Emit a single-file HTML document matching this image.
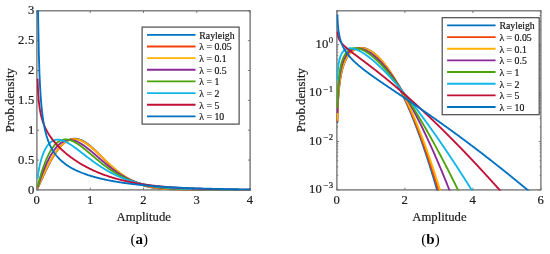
<!DOCTYPE html>
<html><head><meta charset="utf-8"><style>html,body{margin:0;padding:0;background:#fff;width:550px;height:254px;overflow:hidden}svg{display:block}</style></head>
<body>
<svg width="550" height="254" viewBox="0 0 550 254">
<defs>
<clipPath id="ca"><rect x="36.6" y="10.5" width="213.79999999999998" height="180.0"/></clipPath>
<clipPath id="cb"><rect x="336.59999999999997" y="10.5" width="204.6" height="180.0"/></clipPath>
</defs>
<rect width="550" height="254" fill="#fff"/>
<g font-family="Liberation Serif, serif" font-size="12.6" letter-spacing="0.3" fill="#1a1a1a" stroke="#1a1a1a" stroke-width="0.2">
<text x="34.6" y="193.50" text-anchor="end">0</text>
<text x="34.6" y="163.65" text-anchor="end">0.5</text>
<text x="34.6" y="133.80" text-anchor="end">1</text>
<text x="34.6" y="103.95" text-anchor="end">1.5</text>
<text x="34.6" y="74.10" text-anchor="end">2</text>
<text x="34.6" y="44.25" text-anchor="end">2.5</text>
<text x="34.6" y="14.40" text-anchor="end">3</text>
<text x="36.90" y="204.2" text-anchor="middle">0</text>
<text x="90.20" y="204.2" text-anchor="middle">1</text>
<text x="143.50" y="204.2" text-anchor="middle">2</text>
<text x="196.80" y="204.2" text-anchor="middle">3</text>
<text x="250.10" y="204.2" text-anchor="middle">4</text>
<text x="333.4" y="47.89" text-anchor="end">10<tspan dx="0" dy="-4.8" font-size="8.8">0</tspan></text>
<text x="333.4" y="96.31" text-anchor="end">10<tspan dx="1.2" dy="-4.8" font-size="8.8">−1</tspan></text>
<text x="333.4" y="144.73" text-anchor="end">10<tspan dx="1.2" dy="-4.8" font-size="8.8">−2</tspan></text>
<text x="333.4" y="193.15" text-anchor="end">10<tspan dx="1.2" dy="-4.8" font-size="8.8">−3</tspan></text>
<text x="336.90" y="204.2" text-anchor="middle">0</text>
<text x="404.90" y="204.2" text-anchor="middle">2</text>
<text x="472.90" y="204.2" text-anchor="middle">4</text>
<text x="540.90" y="204.2" text-anchor="middle">6</text>
</g>
<path d="M36.90 189.90v-2.20M36.90 10.80v2.20M90.20 189.90v-2.20M90.20 10.80v2.20M143.50 189.90v-2.20M143.50 10.80v2.20M196.80 189.90v-2.20M196.80 10.80v2.20M250.10 189.90v-2.20M250.10 10.80v2.20M36.90 189.90h2.20M250.10 189.90h-2.20M36.90 160.05h2.20M250.10 160.05h-2.20M36.90 130.20h2.20M250.10 130.20h-2.20M36.90 100.35h2.20M250.10 100.35h-2.20M36.90 70.50h2.20M250.10 70.50h-2.20M36.90 40.65h2.20M250.10 40.65h-2.20M36.90 10.80h2.20M250.10 10.80h-2.20" stroke="#6e6e6e" stroke-width="0.9" fill="none"/>
<path d="M336.90 189.90v-2.20M336.90 10.80v2.20M404.90 189.90v-2.20M404.90 10.80v2.20M472.90 189.90v-2.20M472.90 10.80v2.20M540.90 189.90v-2.20M540.90 10.80v2.20M336.90 189.90h2.20M540.90 189.90h-2.20M336.90 141.48h2.20M540.90 141.48h-2.20M336.90 93.06h2.20M540.90 93.06h-2.20M336.90 44.64h2.20M540.90 44.64h-2.20M336.90 175.32h1.32M540.90 175.32h-1.32M336.90 166.80h1.32M540.90 166.80h-1.32M336.90 160.75h1.32M540.90 160.75h-1.32M336.90 156.06h1.32M540.90 156.06h-1.32M336.90 152.22h1.32M540.90 152.22h-1.32M336.90 148.98h1.32M540.90 148.98h-1.32M336.90 146.17h1.32M540.90 146.17h-1.32M336.90 143.70h1.32M540.90 143.70h-1.32M336.90 126.91h1.32M540.90 126.91h-1.32M336.90 118.38h1.32M540.90 118.38h-1.32M336.90 112.33h1.32M540.90 112.33h-1.32M336.90 107.64h1.32M540.90 107.64h-1.32M336.90 103.80h1.32M540.90 103.80h-1.32M336.90 100.56h1.32M540.90 100.56h-1.32M336.90 97.75h1.32M540.90 97.75h-1.32M336.90 95.28h1.32M540.90 95.28h-1.32M336.90 78.49h1.32M540.90 78.49h-1.32M336.90 69.96h1.32M540.90 69.96h-1.32M336.90 63.91h1.32M540.90 63.91h-1.32M336.90 59.22h1.32M540.90 59.22h-1.32M336.90 55.39h1.32M540.90 55.39h-1.32M336.90 52.14h1.32M540.90 52.14h-1.32M336.90 49.34h1.32M540.90 49.34h-1.32M336.90 46.86h1.32M540.90 46.86h-1.32M336.90 30.07h1.32M540.90 30.07h-1.32M336.90 21.54h1.32M540.90 21.54h-1.32M336.90 15.49h1.32M540.90 15.49h-1.32M336.90 10.80h1.32M540.90 10.80h-1.32" stroke="#6e6e6e" stroke-width="0.9" fill="none"/>
<rect x="36.90" y="10.80" width="213.20" height="179.10" fill="none" stroke="#6e6e6e" stroke-width="1.3"/>
<rect x="336.90" y="10.80" width="204.00" height="179.10" fill="none" stroke="#6e6e6e" stroke-width="1.3"/>
<polyline clip-path="url(#ca)" points="37.54,188.47 38.18,187.04 38.82,185.61 39.46,184.18 40.10,182.76 40.74,181.35 41.38,179.94 42.02,178.54 42.66,177.15 43.30,175.78 43.94,174.41 44.58,173.06 45.21,171.72 45.85,170.40 46.49,169.09 47.13,167.80 47.77,166.54 48.41,165.29 49.05,164.06 49.69,162.85 50.33,161.66 50.97,160.50 51.61,159.36 52.25,158.25 52.89,157.16 53.53,156.10 54.17,155.07 54.81,154.06 55.45,153.09 56.09,152.14 56.73,151.22 57.37,150.34 58.01,149.48 58.65,148.66 59.29,147.86 59.93,147.10 60.57,146.37 61.20,145.68 61.84,145.01 62.48,144.38 63.12,143.78 63.76,143.22 64.40,142.69 65.04,142.20 65.68,141.73 66.32,141.30 66.96,140.91 67.60,140.54 68.24,140.21 68.88,139.92 69.52,139.65 70.16,139.42 70.80,139.23 71.44,139.06 72.08,138.92 72.72,138.82 73.36,138.75 74.00,138.70 74.64,138.69 75.28,138.71 75.92,138.75 76.56,138.83 77.19,138.93 77.83,139.06 78.47,139.22 79.11,139.40 79.75,139.60 80.39,139.84 81.03,140.09 81.67,140.37 82.31,140.67 82.95,141.00 83.59,141.34 84.23,141.71 84.87,142.10 85.51,142.50 86.15,142.92 86.79,143.36 87.43,143.82 88.07,144.29 88.71,144.78 89.35,145.28 89.99,145.80 90.63,146.33 91.27,146.87 91.91,147.42 92.55,147.99 93.18,148.56 93.82,149.14 94.46,149.73 95.10,150.33 95.74,150.94 96.38,151.55 97.02,152.17 97.66,152.79 98.30,153.42 98.94,154.05 99.58,154.68 100.22,155.32 100.86,155.95 101.50,156.59 102.14,157.23 102.78,157.87 103.42,158.51 104.06,159.15 104.70,159.78 105.34,160.42 105.98,161.05 106.62,161.68 107.26,162.30 107.90,162.92 108.54,163.54 109.17,164.15 109.81,164.76 110.45,165.36 111.09,165.96 111.73,166.55 112.37,167.13 113.01,167.71 113.65,168.28 114.29,168.85 114.93,169.40 115.57,169.95 116.21,170.49 116.85,171.02 117.49,171.55 118.13,172.06 118.77,172.57 119.41,173.07 120.05,173.56 120.69,174.04 121.33,174.52 121.97,174.98 122.61,175.43 123.25,175.88 123.89,176.32 124.53,176.74 125.16,177.16 125.80,177.57 126.44,177.97 127.08,178.36 127.72,178.75 128.36,179.12 129.00,179.48 129.64,179.84 130.28,180.18 130.92,180.52 131.56,180.85 132.20,181.17 132.84,181.48 133.48,181.79 134.12,182.08 134.76,182.37 135.40,182.65 136.04,182.92 136.68,183.18 137.32,183.43 137.96,183.68 138.60,183.92 139.24,184.15 139.88,184.38 140.52,184.60 141.15,184.81 141.79,185.01 142.43,185.21 143.07,185.40 143.71,185.59 144.35,185.77 144.99,185.94 145.63,186.10 146.27,186.27 146.91,186.42 147.55,186.57 148.19,186.71 148.83,186.85 149.47,186.99 150.11,187.11 150.75,187.24 151.39,187.36 152.03,187.47 152.67,187.58 153.31,187.69 153.95,187.79 154.59,187.89 155.23,187.98 155.87,188.07 156.51,188.16 157.14,188.24 157.78,188.32 158.42,188.40 159.06,188.47 159.70,188.54 160.34,188.61 160.98,188.67 161.62,188.73 162.26,188.79 162.90,188.84 163.54,188.90 164.18,188.95 164.82,189.00 165.46,189.04 166.10,189.09 166.74,189.13 167.38,189.17 168.02,189.21 168.66,189.25 169.30,189.28 169.94,189.31 170.58,189.34 171.22,189.37 171.86,189.40 172.50,189.43 173.13,189.46 173.77,189.48 174.41,189.50 175.05,189.53 175.69,189.55 176.33,189.57 176.97,189.59 177.61,189.60 178.25,189.62 178.89,189.64 179.53,189.65 180.17,189.67 180.81,189.68 181.45,189.69 182.09,189.71 182.73,189.72 183.37,189.73 184.01,189.74 184.65,189.75 185.29,189.76 185.93,189.77 186.57,189.77 187.21,189.78 187.85,189.79 188.49,189.80 189.12,189.80 189.76,189.81 190.40,189.81 191.04,189.82 191.68,189.82 192.32,189.83 192.96,189.83 193.60,189.84 194.24,189.84 194.88,189.85 195.52,189.85 196.16,189.85 196.80,189.86 197.44,189.86 198.08,189.86 198.72,189.86 199.36,189.87 200.00,189.87 200.64,189.87 201.28,189.87 201.92,189.87 202.56,189.88 203.20,189.88 203.84,189.88 204.48,189.88 205.11,189.88 205.75,189.88 206.39,189.88 207.03,189.89 207.67,189.89 208.31,189.89 208.95,189.89 209.59,189.89 210.23,189.89 210.87,189.89 211.51,189.89 212.15,189.89 212.79,189.89 213.43,189.89 214.07,189.89 214.71,189.89 215.35,189.89 215.99,189.89 216.63,189.90 217.27,189.90 217.91,189.90 218.55,189.90 219.19,189.90 219.83,189.90 220.47,189.90 221.10,189.90 221.74,189.90 222.38,189.90 223.02,189.90 223.66,189.90 224.30,189.90 224.94,189.90 225.58,189.90 226.22,189.90 226.86,189.90 227.50,189.90 228.14,189.90 228.78,189.90 229.42,189.90 230.06,189.90 230.70,189.90 231.34,189.90 231.98,189.90 232.62,189.90 233.26,189.90 233.90,189.90 234.54,189.90 235.18,189.90 235.82,189.90 236.46,189.90 237.09,189.90 237.73,189.90 238.37,189.90 239.01,189.90 239.65,189.90 240.29,189.90 240.93,189.90 241.57,189.90 242.21,189.90 242.85,189.90 243.49,189.90 244.13,189.90 244.77,189.90 245.41,189.90 246.05,189.90 246.69,189.90 247.33,189.90 247.97,189.90 248.61,189.90 249.25,189.90 249.89,189.90 250.53,189.90 251.17,189.90 251.81,189.90 252.45,189.90" fill="none" stroke="#0070c0" stroke-width="1.85" stroke-linejoin="round"/>
<polyline clip-path="url(#ca)" points="37.54,188.41 38.18,186.94 38.82,185.48 39.46,184.03 40.10,182.59 40.74,181.16 41.38,179.73 42.02,178.32 42.66,176.92 43.30,175.53 43.94,174.16 44.58,172.80 45.21,171.46 45.85,170.14 46.49,168.83 47.13,167.54 47.77,166.27 48.41,165.03 49.05,163.80 49.69,162.60 50.33,161.42 50.97,160.27 51.61,159.14 52.25,158.04 52.89,156.96 53.53,155.91 54.17,154.89 54.81,153.90 55.45,152.94 56.09,152.01 56.73,151.11 57.37,150.24 58.01,149.40 58.65,148.59 59.29,147.81 59.93,147.07 60.57,146.36 61.20,145.68 61.84,145.03 62.48,144.42 63.12,143.84 63.76,143.30 64.40,142.78 65.04,142.31 65.68,141.86 66.32,141.45 66.96,141.07 67.60,140.72 68.24,140.41 68.88,140.13 69.52,139.88 70.16,139.66 70.80,139.48 71.44,139.33 72.08,139.21 72.72,139.11 73.36,139.05 74.00,139.02 74.64,139.02 75.28,139.05 75.92,139.10 76.56,139.18 77.19,139.29 77.83,139.43 78.47,139.59 79.11,139.78 79.75,139.99 80.39,140.23 81.03,140.49 81.67,140.77 82.31,141.07 82.95,141.40 83.59,141.74 84.23,142.11 84.87,142.49 85.51,142.90 86.15,143.32 86.79,143.75 87.43,144.21 88.07,144.67 88.71,145.16 89.35,145.65 89.99,146.16 90.63,146.69 91.27,147.22 91.91,147.77 92.55,148.32 93.18,148.88 93.82,149.46 94.46,150.04 95.10,150.63 95.74,151.22 96.38,151.82 97.02,152.43 97.66,153.04 98.30,153.66 98.94,154.28 99.58,154.90 100.22,155.52 100.86,156.15 101.50,156.77 102.14,157.40 102.78,158.03 103.42,158.65 104.06,159.28 104.70,159.90 105.34,160.52 105.98,161.14 106.62,161.76 107.26,162.37 107.90,162.98 108.54,163.59 109.17,164.19 109.81,164.78 110.45,165.38 111.09,165.96 111.73,166.54 112.37,167.11 113.01,167.68 113.65,168.24 114.29,168.79 114.93,169.34 115.57,169.88 116.21,170.41 116.85,170.93 117.49,171.45 118.13,171.96 118.77,172.46 119.41,172.95 120.05,173.43 120.69,173.91 121.33,174.38 121.97,174.83 122.61,175.28 123.25,175.72 123.89,176.15 124.53,176.58 125.16,176.99 125.80,177.40 126.44,177.79 127.08,178.18 127.72,178.56 128.36,178.93 129.00,179.29 129.64,179.64 130.28,179.99 130.92,180.32 131.56,180.65 132.20,180.97 132.84,181.28 133.48,181.58 134.12,181.88 134.76,182.17 135.40,182.44 136.04,182.72 136.68,182.98 137.32,183.23 137.96,183.48 138.60,183.72 139.24,183.96 139.88,184.18 140.52,184.40 141.15,184.62 141.79,184.82 142.43,185.02 143.07,185.22 143.71,185.40 144.35,185.58 144.99,185.76 145.63,185.93 146.27,186.09 146.91,186.25 147.55,186.40 148.19,186.55 148.83,186.69 149.47,186.83 150.11,186.96 150.75,187.08 151.39,187.21 152.03,187.33 152.67,187.44 153.31,187.55 153.95,187.65 154.59,187.75 155.23,187.85 155.87,187.94 156.51,188.03 157.14,188.12 157.78,188.20 158.42,188.28 159.06,188.36 159.70,188.43 160.34,188.50 160.98,188.57 161.62,188.63 162.26,188.69 162.90,188.75 163.54,188.81 164.18,188.86 164.82,188.91 165.46,188.96 166.10,189.01 166.74,189.05 167.38,189.10 168.02,189.14 168.66,189.18 169.30,189.21 169.94,189.25 170.58,189.28 171.22,189.31 171.86,189.35 172.50,189.37 173.13,189.40 173.77,189.43 174.41,189.45 175.05,189.48 175.69,189.50 176.33,189.52 176.97,189.54 177.61,189.56 178.25,189.58 178.89,189.60 179.53,189.62 180.17,189.63 180.81,189.65 181.45,189.66 182.09,189.68 182.73,189.69 183.37,189.70 184.01,189.71 184.65,189.72 185.29,189.73 185.93,189.74 186.57,189.75 187.21,189.76 187.85,189.77 188.49,189.78 189.12,189.78 189.76,189.79 190.40,189.80 191.04,189.80 191.68,189.81 192.32,189.82 192.96,189.82 193.60,189.83 194.24,189.83 194.88,189.83 195.52,189.84 196.16,189.84 196.80,189.85 197.44,189.85 198.08,189.85 198.72,189.86 199.36,189.86 200.00,189.86 200.64,189.86 201.28,189.87 201.92,189.87 202.56,189.87 203.20,189.87 203.84,189.87 204.48,189.88 205.11,189.88 205.75,189.88 206.39,189.88 207.03,189.88 207.67,189.88 208.31,189.88 208.95,189.89 209.59,189.89 210.23,189.89 210.87,189.89 211.51,189.89 212.15,189.89 212.79,189.89 213.43,189.89 214.07,189.89 214.71,189.89 215.35,189.89 215.99,189.89 216.63,189.89 217.27,189.89 217.91,189.89 218.55,189.90 219.19,189.90 219.83,189.90 220.47,189.90 221.10,189.90 221.74,189.90 222.38,189.90 223.02,189.90 223.66,189.90 224.30,189.90 224.94,189.90 225.58,189.90 226.22,189.90 226.86,189.90 227.50,189.90 228.14,189.90 228.78,189.90 229.42,189.90 230.06,189.90 230.70,189.90 231.34,189.90 231.98,189.90 232.62,189.90 233.26,189.90 233.90,189.90 234.54,189.90 235.18,189.90 235.82,189.90 236.46,189.90 237.09,189.90 237.73,189.90 238.37,189.90 239.01,189.90 239.65,189.90 240.29,189.90 240.93,189.90 241.57,189.90 242.21,189.90 242.85,189.90 243.49,189.90 244.13,189.90 244.77,189.90 245.41,189.90 246.05,189.90 246.69,189.90 247.33,189.90 247.97,189.90 248.61,189.90 249.25,189.90 249.89,189.90 250.53,189.90 251.17,189.90 251.81,189.90 252.45,189.90" fill="none" stroke="#f64008" stroke-width="1.85" stroke-linejoin="round"/>
<polyline clip-path="url(#ca)" points="37.54,188.27 38.18,186.72 38.82,185.20 39.46,183.70 40.10,182.21 40.74,180.75 41.38,179.30 42.02,177.86 42.66,176.44 43.30,175.04 43.94,173.66 44.58,172.30 45.21,170.95 45.85,169.62 46.49,168.32 47.13,167.04 47.77,165.78 48.41,164.54 49.05,163.32 49.69,162.13 50.33,160.97 50.97,159.83 51.61,158.72 52.25,157.63 52.89,156.58 53.53,155.55 54.17,154.55 54.81,153.58 55.45,152.64 56.09,151.73 56.73,150.85 57.37,150.00 58.01,149.18 58.65,148.40 59.29,147.64 59.93,146.92 60.57,146.23 61.20,145.58 61.84,144.95 62.48,144.36 63.12,143.80 63.76,143.28 64.40,142.79 65.04,142.33 65.68,141.90 66.32,141.50 66.96,141.14 67.60,140.81 68.24,140.52 68.88,140.25 69.52,140.02 70.16,139.81 70.80,139.64 71.44,139.50 72.08,139.39 72.72,139.30 73.36,139.25 74.00,139.23 74.64,139.23 75.28,139.26 75.92,139.32 76.56,139.41 77.19,139.52 77.83,139.66 78.47,139.82 79.11,140.01 79.75,140.22 80.39,140.45 81.03,140.71 81.67,140.99 82.31,141.29 82.95,141.61 83.59,141.94 84.23,142.30 84.87,142.68 85.51,143.07 86.15,143.48 86.79,143.91 87.43,144.35 88.07,144.81 88.71,145.28 89.35,145.77 89.99,146.26 90.63,146.77 91.27,147.29 91.91,147.82 92.55,148.37 93.18,148.92 93.82,149.47 94.46,150.04 95.10,150.61 95.74,151.19 96.38,151.78 97.02,152.37 97.66,152.97 98.30,153.57 98.94,154.17 99.58,154.78 100.22,155.38 100.86,155.99 101.50,156.61 102.14,157.22 102.78,157.83 103.42,158.44 104.06,159.05 104.70,159.66 105.34,160.27 105.98,160.88 106.62,161.48 107.26,162.08 107.90,162.68 108.54,163.27 109.17,163.86 109.81,164.45 110.45,165.03 111.09,165.60 111.73,166.17 112.37,166.73 113.01,167.29 113.65,167.84 114.29,168.39 114.93,168.93 115.57,169.46 116.21,169.99 116.85,170.50 117.49,171.01 118.13,171.52 118.77,172.01 119.41,172.50 120.05,172.98 120.69,173.45 121.33,173.91 121.97,174.37 122.61,174.82 123.25,175.26 123.89,175.69 124.53,176.11 125.16,176.52 125.80,176.93 126.44,177.32 127.08,177.71 127.72,178.09 128.36,178.47 129.00,178.83 129.64,179.18 130.28,179.53 130.92,179.87 131.56,180.20 132.20,180.52 132.84,180.84 133.48,181.14 134.12,181.44 134.76,181.73 135.40,182.02 136.04,182.29 136.68,182.56 137.32,182.82 137.96,183.08 138.60,183.32 139.24,183.56 139.88,183.80 140.52,184.02 141.15,184.24 141.79,184.45 142.43,184.66 143.07,184.86 143.71,185.05 144.35,185.24 144.99,185.42 145.63,185.60 146.27,185.77 146.91,185.93 147.55,186.09 148.19,186.25 148.83,186.39 149.47,186.54 150.11,186.68 150.75,186.81 151.39,186.94 152.03,187.06 152.67,187.18 153.31,187.30 153.95,187.41 154.59,187.52 155.23,187.62 155.87,187.72 156.51,187.82 157.14,187.91 157.78,188.00 158.42,188.08 159.06,188.16 159.70,188.24 160.34,188.32 160.98,188.39 161.62,188.46 162.26,188.53 162.90,188.59 163.54,188.65 164.18,188.71 164.82,188.77 165.46,188.82 166.10,188.87 166.74,188.92 167.38,188.97 168.02,189.02 168.66,189.06 169.30,189.10 169.94,189.14 170.58,189.18 171.22,189.21 171.86,189.25 172.50,189.28 173.13,189.31 173.77,189.34 174.41,189.37 175.05,189.40 175.69,189.42 176.33,189.45 176.97,189.47 177.61,189.50 178.25,189.52 178.89,189.54 179.53,189.56 180.17,189.58 180.81,189.59 181.45,189.61 182.09,189.63 182.73,189.64 183.37,189.65 184.01,189.67 184.65,189.68 185.29,189.69 185.93,189.70 186.57,189.72 187.21,189.73 187.85,189.74 188.49,189.75 189.12,189.75 189.76,189.76 190.40,189.77 191.04,189.78 191.68,189.79 192.32,189.79 192.96,189.80 193.60,189.80 194.24,189.81 194.88,189.82 195.52,189.82 196.16,189.83 196.80,189.83 197.44,189.83 198.08,189.84 198.72,189.84 199.36,189.85 200.00,189.85 200.64,189.85 201.28,189.85 201.92,189.86 202.56,189.86 203.20,189.86 203.84,189.87 204.48,189.87 205.11,189.87 205.75,189.87 206.39,189.87 207.03,189.87 207.67,189.88 208.31,189.88 208.95,189.88 209.59,189.88 210.23,189.88 210.87,189.88 211.51,189.88 212.15,189.89 212.79,189.89 213.43,189.89 214.07,189.89 214.71,189.89 215.35,189.89 215.99,189.89 216.63,189.89 217.27,189.89 217.91,189.89 218.55,189.89 219.19,189.89 219.83,189.89 220.47,189.89 221.10,189.89 221.74,189.89 222.38,189.90 223.02,189.90 223.66,189.90 224.30,189.90 224.94,189.90 225.58,189.90 226.22,189.90 226.86,189.90 227.50,189.90 228.14,189.90 228.78,189.90 229.42,189.90 230.06,189.90 230.70,189.90 231.34,189.90 231.98,189.90 232.62,189.90 233.26,189.90 233.90,189.90 234.54,189.90 235.18,189.90 235.82,189.90 236.46,189.90 237.09,189.90 237.73,189.90 238.37,189.90 239.01,189.90 239.65,189.90 240.29,189.90 240.93,189.90 241.57,189.90 242.21,189.90 242.85,189.90 243.49,189.90 244.13,189.90 244.77,189.90 245.41,189.90 246.05,189.90 246.69,189.90 247.33,189.90 247.97,189.90 248.61,189.90 249.25,189.90 249.89,189.90 250.53,189.90 251.17,189.90 251.81,189.90 252.45,189.90" fill="none" stroke="#ffb000" stroke-width="1.85" stroke-linejoin="round"/>
<polyline clip-path="url(#ca)" points="37.54,187.58 38.18,185.51 38.82,183.54 39.46,181.64 40.10,179.79 40.74,177.99 41.38,176.23 42.02,174.52 42.66,172.85 43.30,171.23 43.94,169.65 44.58,168.11 45.21,166.61 45.85,165.15 46.49,163.73 47.13,162.36 47.77,161.03 48.41,159.74 49.05,158.49 49.69,157.29 50.33,156.13 50.97,155.01 51.61,153.93 52.25,152.90 52.89,151.91 53.53,150.96 54.17,150.05 54.81,149.18 55.45,148.36 56.09,147.58 56.73,146.84 57.37,146.14 58.01,145.48 58.65,144.86 59.29,144.28 59.93,143.74 60.57,143.24 61.20,142.77 61.84,142.35 62.48,141.96 63.12,141.60 63.76,141.29 64.40,141.01 65.04,140.76 65.68,140.55 66.32,140.37 66.96,140.22 67.60,140.11 68.24,140.02 68.88,139.97 69.52,139.94 70.16,139.95 70.80,139.98 71.44,140.04 72.08,140.13 72.72,140.24 73.36,140.38 74.00,140.54 74.64,140.73 75.28,140.94 75.92,141.17 76.56,141.42 77.19,141.69 77.83,141.98 78.47,142.29 79.11,142.62 79.75,142.97 80.39,143.33 81.03,143.71 81.67,144.10 82.31,144.51 82.95,144.93 83.59,145.36 84.23,145.81 84.87,146.27 85.51,146.73 86.15,147.21 86.79,147.70 87.43,148.20 88.07,148.70 88.71,149.21 89.35,149.73 89.99,150.26 90.63,150.79 91.27,151.32 91.91,151.86 92.55,152.41 93.18,152.96 93.82,153.51 94.46,154.06 95.10,154.62 95.74,155.17 96.38,155.73 97.02,156.29 97.66,156.85 98.30,157.41 98.94,157.97 99.58,158.53 100.22,159.08 100.86,159.64 101.50,160.19 102.14,160.74 102.78,161.29 103.42,161.83 104.06,162.38 104.70,162.91 105.34,163.45 105.98,163.98 106.62,164.50 107.26,165.02 107.90,165.54 108.54,166.05 109.17,166.56 109.81,167.06 110.45,167.56 111.09,168.05 111.73,168.53 112.37,169.01 113.01,169.48 113.65,169.95 114.29,170.41 114.93,170.86 115.57,171.31 116.21,171.75 116.85,172.19 117.49,172.62 118.13,173.04 118.77,173.45 119.41,173.86 120.05,174.26 120.69,174.66 121.33,175.05 121.97,175.43 122.61,175.80 123.25,176.17 123.89,176.53 124.53,176.88 125.16,177.23 125.80,177.57 126.44,177.90 127.08,178.23 127.72,178.55 128.36,178.86 129.00,179.17 129.64,179.47 130.28,179.77 130.92,180.05 131.56,180.34 132.20,180.61 132.84,180.88 133.48,181.14 134.12,181.40 134.76,181.65 135.40,181.90 136.04,182.14 136.68,182.37 137.32,182.60 137.96,182.82 138.60,183.04 139.24,183.25 139.88,183.46 140.52,183.66 141.15,183.85 141.79,184.04 142.43,184.23 143.07,184.41 143.71,184.59 144.35,184.76 144.99,184.92 145.63,185.09 146.27,185.24 146.91,185.40 147.55,185.55 148.19,185.69 148.83,185.83 149.47,185.97 150.11,186.10 150.75,186.23 151.39,186.35 152.03,186.48 152.67,186.59 153.31,186.71 153.95,186.82 154.59,186.93 155.23,187.03 155.87,187.13 156.51,187.23 157.14,187.32 157.78,187.42 158.42,187.51 159.06,187.59 159.70,187.68 160.34,187.76 160.98,187.83 161.62,187.91 162.26,187.98 162.90,188.05 163.54,188.12 164.18,188.19 164.82,188.25 165.46,188.32 166.10,188.38 166.74,188.43 167.38,188.49 168.02,188.54 168.66,188.59 169.30,188.65 169.94,188.69 170.58,188.74 171.22,188.79 171.86,188.83 172.50,188.87 173.13,188.91 173.77,188.95 174.41,188.99 175.05,189.02 175.69,189.06 176.33,189.09 176.97,189.13 177.61,189.16 178.25,189.19 178.89,189.22 179.53,189.24 180.17,189.27 180.81,189.30 181.45,189.32 182.09,189.35 182.73,189.37 183.37,189.39 184.01,189.41 184.65,189.43 185.29,189.45 185.93,189.47 186.57,189.49 187.21,189.51 187.85,189.52 188.49,189.54 189.12,189.56 189.76,189.57 190.40,189.58 191.04,189.60 191.68,189.61 192.32,189.62 192.96,189.64 193.60,189.65 194.24,189.66 194.88,189.67 195.52,189.68 196.16,189.69 196.80,189.70 197.44,189.71 198.08,189.72 198.72,189.72 199.36,189.73 200.00,189.74 200.64,189.75 201.28,189.75 201.92,189.76 202.56,189.77 203.20,189.77 203.84,189.78 204.48,189.79 205.11,189.79 205.75,189.80 206.39,189.80 207.03,189.81 207.67,189.81 208.31,189.81 208.95,189.82 209.59,189.82 210.23,189.83 210.87,189.83 211.51,189.83 212.15,189.84 212.79,189.84 213.43,189.84 214.07,189.84 214.71,189.85 215.35,189.85 215.99,189.85 216.63,189.85 217.27,189.86 217.91,189.86 218.55,189.86 219.19,189.86 219.83,189.86 220.47,189.87 221.10,189.87 221.74,189.87 222.38,189.87 223.02,189.87 223.66,189.87 224.30,189.88 224.94,189.88 225.58,189.88 226.22,189.88 226.86,189.88 227.50,189.88 228.14,189.88 228.78,189.88 229.42,189.88 230.06,189.88 230.70,189.89 231.34,189.89 231.98,189.89 232.62,189.89 233.26,189.89 233.90,189.89 234.54,189.89 235.18,189.89 235.82,189.89 236.46,189.89 237.09,189.89 237.73,189.89 238.37,189.89 239.01,189.89 239.65,189.89 240.29,189.89 240.93,189.89 241.57,189.89 242.21,189.89 242.85,189.89 243.49,189.90 244.13,189.90 244.77,189.90 245.41,189.90 246.05,189.90 246.69,189.90 247.33,189.90 247.97,189.90 248.61,189.90 249.25,189.90 249.89,189.90 250.53,189.90 251.17,189.90 251.81,189.90 252.45,189.90" fill="none" stroke="#8a2a96" stroke-width="1.85" stroke-linejoin="round"/>
<polyline clip-path="url(#ca)" points="37.54,186.96 38.18,184.37 38.82,181.92 39.46,179.58 40.10,177.33 40.74,175.16 41.38,173.08 42.02,171.07 42.66,169.13 43.30,167.27 43.94,165.48 44.58,163.76 45.21,162.11 45.85,160.53 46.49,159.01 47.13,157.56 47.77,156.18 48.41,154.86 49.05,153.60 49.69,152.41 50.33,151.27 50.97,150.20 51.61,149.18 52.25,148.22 52.89,147.32 53.53,146.48 54.17,145.69 54.81,144.95 55.45,144.26 56.09,143.63 56.73,143.05 57.37,142.51 58.01,142.02 58.65,141.58 59.29,141.18 59.93,140.83 60.57,140.52 61.20,140.25 61.84,140.02 62.48,139.83 63.12,139.68 63.76,139.57 64.40,139.49 65.04,139.44 65.68,139.43 66.32,139.45 66.96,139.50 67.60,139.58 68.24,139.68 68.88,139.82 69.52,139.98 70.16,140.17 70.80,140.38 71.44,140.62 72.08,140.87 72.72,141.15 73.36,141.45 74.00,141.77 74.64,142.10 75.28,142.46 75.92,142.83 76.56,143.21 77.19,143.61 77.83,144.02 78.47,144.45 79.11,144.89 79.75,145.34 80.39,145.80 81.03,146.27 81.67,146.75 82.31,147.24 82.95,147.74 83.59,148.24 84.23,148.75 84.87,149.27 85.51,149.79 86.15,150.32 86.79,150.85 87.43,151.38 88.07,151.92 88.71,152.46 89.35,153.00 89.99,153.54 90.63,154.09 91.27,154.63 91.91,155.18 92.55,155.73 93.18,156.27 93.82,156.81 94.46,157.36 95.10,157.90 95.74,158.44 96.38,158.98 97.02,159.51 97.66,160.04 98.30,160.57 98.94,161.10 99.58,161.62 100.22,162.14 100.86,162.65 101.50,163.16 102.14,163.67 102.78,164.17 103.42,164.67 104.06,165.16 104.70,165.65 105.34,166.13 105.98,166.61 106.62,167.08 107.26,167.54 107.90,168.00 108.54,168.46 109.17,168.91 109.81,169.35 110.45,169.79 111.09,170.22 111.73,170.64 112.37,171.06 113.01,171.47 113.65,171.88 114.29,172.28 114.93,172.68 115.57,173.07 116.21,173.45 116.85,173.82 117.49,174.19 118.13,174.56 118.77,174.91 119.41,175.27 120.05,175.61 120.69,175.95 121.33,176.28 121.97,176.61 122.61,176.93 123.25,177.25 123.89,177.56 124.53,177.86 125.16,178.16 125.80,178.45 126.44,178.73 127.08,179.02 127.72,179.29 128.36,179.56 129.00,179.82 129.64,180.08 130.28,180.33 130.92,180.58 131.56,180.82 132.20,181.06 132.84,181.29 133.48,181.52 134.12,181.74 134.76,181.96 135.40,182.17 136.04,182.38 136.68,182.58 137.32,182.78 137.96,182.97 138.60,183.16 139.24,183.35 139.88,183.53 140.52,183.71 141.15,183.88 141.79,184.05 142.43,184.21 143.07,184.37 143.71,184.53 144.35,184.68 144.99,184.83 145.63,184.97 146.27,185.11 146.91,185.25 147.55,185.39 148.19,185.52 148.83,185.64 149.47,185.77 150.11,185.89 150.75,186.01 151.39,186.12 152.03,186.23 152.67,186.34 153.31,186.45 153.95,186.55 154.59,186.65 155.23,186.75 155.87,186.85 156.51,186.94 157.14,187.03 157.78,187.12 158.42,187.20 159.06,187.28 159.70,187.36 160.34,187.44 160.98,187.52 161.62,187.59 162.26,187.66 162.90,187.73 163.54,187.80 164.18,187.87 164.82,187.93 165.46,187.99 166.10,188.06 166.74,188.11 167.38,188.17 168.02,188.23 168.66,188.28 169.30,188.33 169.94,188.38 170.58,188.43 171.22,188.48 171.86,188.53 172.50,188.57 173.13,188.61 173.77,188.66 174.41,188.70 175.05,188.74 175.69,188.77 176.33,188.81 176.97,188.85 177.61,188.88 178.25,188.92 178.89,188.95 179.53,188.98 180.17,189.01 180.81,189.04 181.45,189.07 182.09,189.10 182.73,189.13 183.37,189.15 184.01,189.18 184.65,189.20 185.29,189.23 185.93,189.25 186.57,189.27 187.21,189.29 187.85,189.32 188.49,189.34 189.12,189.36 189.76,189.37 190.40,189.39 191.04,189.41 191.68,189.43 192.32,189.44 192.96,189.46 193.60,189.48 194.24,189.49 194.88,189.51 195.52,189.52 196.16,189.53 196.80,189.55 197.44,189.56 198.08,189.57 198.72,189.58 199.36,189.59 200.00,189.60 200.64,189.62 201.28,189.63 201.92,189.64 202.56,189.65 203.20,189.65 203.84,189.66 204.48,189.67 205.11,189.68 205.75,189.69 206.39,189.70 207.03,189.70 207.67,189.71 208.31,189.72 208.95,189.72 209.59,189.73 210.23,189.74 210.87,189.74 211.51,189.75 212.15,189.76 212.79,189.76 213.43,189.77 214.07,189.77 214.71,189.78 215.35,189.78 215.99,189.78 216.63,189.79 217.27,189.79 217.91,189.80 218.55,189.80 219.19,189.81 219.83,189.81 220.47,189.81 221.10,189.82 221.74,189.82 222.38,189.82 223.02,189.82 223.66,189.83 224.30,189.83 224.94,189.83 225.58,189.84 226.22,189.84 226.86,189.84 227.50,189.84 228.14,189.85 228.78,189.85 229.42,189.85 230.06,189.85 230.70,189.85 231.34,189.86 231.98,189.86 232.62,189.86 233.26,189.86 233.90,189.86 234.54,189.86 235.18,189.86 235.82,189.87 236.46,189.87 237.09,189.87 237.73,189.87 238.37,189.87 239.01,189.87 239.65,189.87 240.29,189.87 240.93,189.88 241.57,189.88 242.21,189.88 242.85,189.88 243.49,189.88 244.13,189.88 244.77,189.88 245.41,189.88 246.05,189.88 246.69,189.88 247.33,189.88 247.97,189.88 248.61,189.89 249.25,189.89 249.89,189.89 250.53,189.89 251.17,189.89 251.81,189.89 252.45,189.89" fill="none" stroke="#4ca40a" stroke-width="1.85" stroke-linejoin="round"/>
<polyline clip-path="url(#ca)" points="37.54,178.99 38.18,173.89 38.82,169.95 39.46,166.65 40.10,163.80 40.74,161.27 41.38,159.02 42.02,156.99 42.66,155.14 43.30,153.47 43.94,151.94 44.58,150.55 45.21,149.28 45.85,148.11 46.49,147.05 47.13,146.09 47.77,145.21 48.41,144.42 49.05,143.70 49.69,143.06 50.33,142.48 50.97,141.96 51.61,141.51 52.25,141.12 52.89,140.77 53.53,140.48 54.17,140.24 54.81,140.04 55.45,139.89 56.09,139.78 56.73,139.70 57.37,139.67 58.01,139.67 58.65,139.70 59.29,139.76 59.93,139.85 60.57,139.98 61.20,140.13 61.84,140.30 62.48,140.50 63.12,140.72 63.76,140.96 64.40,141.22 65.04,141.51 65.68,141.81 66.32,142.12 66.96,142.46 67.60,142.80 68.24,143.17 68.88,143.54 69.52,143.93 70.16,144.33 70.80,144.74 71.44,145.16 72.08,145.58 72.72,146.02 73.36,146.47 74.00,146.92 74.64,147.38 75.28,147.84 75.92,148.31 76.56,148.79 77.19,149.26 77.83,149.75 78.47,150.23 79.11,150.72 79.75,151.21 80.39,151.71 81.03,152.20 81.67,152.70 82.31,153.19 82.95,153.69 83.59,154.19 84.23,154.68 84.87,155.18 85.51,155.68 86.15,156.17 86.79,156.66 87.43,157.15 88.07,157.64 88.71,158.13 89.35,158.62 89.99,159.10 90.63,159.58 91.27,160.06 91.91,160.53 92.55,161.00 93.18,161.47 93.82,161.93 94.46,162.39 95.10,162.85 95.74,163.30 96.38,163.75 97.02,164.19 97.66,164.63 98.30,165.07 98.94,165.50 99.58,165.93 100.22,166.35 100.86,166.77 101.50,167.18 102.14,167.59 102.78,167.99 103.42,168.39 104.06,168.78 104.70,169.17 105.34,169.56 105.98,169.94 106.62,170.31 107.26,170.68 107.90,171.04 108.54,171.40 109.17,171.76 109.81,172.11 110.45,172.45 111.09,172.79 111.73,173.13 112.37,173.46 113.01,173.78 113.65,174.10 114.29,174.42 114.93,174.73 115.57,175.03 116.21,175.33 116.85,175.63 117.49,175.92 118.13,176.21 118.77,176.49 119.41,176.77 120.05,177.04 120.69,177.31 121.33,177.57 121.97,177.83 122.61,178.08 123.25,178.33 123.89,178.58 124.53,178.82 125.16,179.06 125.80,179.29 126.44,179.52 127.08,179.75 127.72,179.97 128.36,180.18 129.00,180.39 129.64,180.60 130.28,180.81 130.92,181.01 131.56,181.21 132.20,181.40 132.84,181.59 133.48,181.78 134.12,181.96 134.76,182.14 135.40,182.31 136.04,182.48 136.68,182.65 137.32,182.82 137.96,182.98 138.60,183.14 139.24,183.29 139.88,183.45 140.52,183.60 141.15,183.74 141.79,183.89 142.43,184.03 143.07,184.16 143.71,184.30 144.35,184.43 144.99,184.56 145.63,184.69 146.27,184.81 146.91,184.93 147.55,185.05 148.19,185.17 148.83,185.28 149.47,185.39 150.11,185.50 150.75,185.60 151.39,185.71 152.03,185.81 152.67,185.91 153.31,186.01 153.95,186.10 154.59,186.19 155.23,186.29 155.87,186.37 156.51,186.46 157.14,186.55 157.78,186.63 158.42,186.71 159.06,186.79 159.70,186.87 160.34,186.94 160.98,187.02 161.62,187.09 162.26,187.16 162.90,187.23 163.54,187.30 164.18,187.36 164.82,187.43 165.46,187.49 166.10,187.55 166.74,187.61 167.38,187.67 168.02,187.73 168.66,187.78 169.30,187.84 169.94,187.89 170.58,187.94 171.22,187.99 171.86,188.04 172.50,188.09 173.13,188.14 173.77,188.18 174.41,188.23 175.05,188.27 175.69,188.31 176.33,188.36 176.97,188.40 177.61,188.44 178.25,188.48 178.89,188.51 179.53,188.55 180.17,188.59 180.81,188.62 181.45,188.65 182.09,188.69 182.73,188.72 183.37,188.75 184.01,188.78 184.65,188.81 185.29,188.84 185.93,188.87 186.57,188.90 187.21,188.93 187.85,188.95 188.49,188.98 189.12,189.00 189.76,189.03 190.40,189.05 191.04,189.07 191.68,189.10 192.32,189.12 192.96,189.14 193.60,189.16 194.24,189.18 194.88,189.20 195.52,189.22 196.16,189.24 196.80,189.26 197.44,189.27 198.08,189.29 198.72,189.31 199.36,189.33 200.00,189.34 200.64,189.36 201.28,189.37 201.92,189.39 202.56,189.40 203.20,189.42 203.84,189.43 204.48,189.44 205.11,189.46 205.75,189.47 206.39,189.48 207.03,189.49 207.67,189.50 208.31,189.51 208.95,189.53 209.59,189.54 210.23,189.55 210.87,189.56 211.51,189.57 212.15,189.58 212.79,189.59 213.43,189.59 214.07,189.60 214.71,189.61 215.35,189.62 215.99,189.63 216.63,189.64 217.27,189.64 217.91,189.65 218.55,189.66 219.19,189.67 219.83,189.67 220.47,189.68 221.10,189.69 221.74,189.69 222.38,189.70 223.02,189.70 223.66,189.71 224.30,189.71 224.94,189.72 225.58,189.73 226.22,189.73 226.86,189.74 227.50,189.74 228.14,189.75 228.78,189.75 229.42,189.75 230.06,189.76 230.70,189.76 231.34,189.77 231.98,189.77 232.62,189.77 233.26,189.78 233.90,189.78 234.54,189.79 235.18,189.79 235.82,189.79 236.46,189.80 237.09,189.80 237.73,189.80 238.37,189.80 239.01,189.81 239.65,189.81 240.29,189.81 240.93,189.82 241.57,189.82 242.21,189.82 242.85,189.82 243.49,189.83 244.13,189.83 244.77,189.83 245.41,189.83 246.05,189.83 246.69,189.84 247.33,189.84 247.97,189.84 248.61,189.84 249.25,189.84 249.89,189.85 250.53,189.85 251.17,189.85 251.81,189.85 252.45,189.85" fill="none" stroke="#10b6ea" stroke-width="1.85" stroke-linejoin="round"/>
<polyline clip-path="url(#ca)" points="37.54,78.60 38.18,93.46 38.82,101.39 39.46,106.75 40.10,110.78 40.74,114.02 41.38,116.74 42.02,119.08 42.66,121.14 43.30,122.99 43.94,124.67 44.58,126.22 45.21,127.65 45.85,128.99 46.49,130.24 47.13,131.43 47.77,132.56 48.41,133.63 49.05,134.66 49.69,135.64 50.33,136.59 50.97,137.50 51.61,138.39 52.25,139.24 52.89,140.07 53.53,140.87 54.17,141.66 54.81,142.42 55.45,143.16 56.09,143.89 56.73,144.59 57.37,145.28 58.01,145.96 58.65,146.62 59.29,147.27 59.93,147.91 60.57,148.53 61.20,149.15 61.84,149.75 62.48,150.34 63.12,150.92 63.76,151.49 64.40,152.05 65.04,152.60 65.68,153.14 66.32,153.67 66.96,154.20 67.60,154.71 68.24,155.22 68.88,155.72 69.52,156.21 70.16,156.70 70.80,157.18 71.44,157.65 72.08,158.11 72.72,158.57 73.36,159.02 74.00,159.47 74.64,159.91 75.28,160.34 75.92,160.77 76.56,161.19 77.19,161.60 77.83,162.01 78.47,162.42 79.11,162.81 79.75,163.21 80.39,163.59 81.03,163.98 81.67,164.35 82.31,164.72 82.95,165.09 83.59,165.45 84.23,165.81 84.87,166.16 85.51,166.51 86.15,166.85 86.79,167.19 87.43,167.52 88.07,167.85 88.71,168.18 89.35,168.50 89.99,168.82 90.63,169.13 91.27,169.44 91.91,169.74 92.55,170.04 93.18,170.33 93.82,170.63 94.46,170.91 95.10,171.20 95.74,171.48 96.38,171.75 97.02,172.03 97.66,172.30 98.30,172.56 98.94,172.82 99.58,173.08 100.22,173.34 100.86,173.59 101.50,173.84 102.14,174.08 102.78,174.32 103.42,174.56 104.06,174.79 104.70,175.03 105.34,175.25 105.98,175.48 106.62,175.70 107.26,175.92 107.90,176.14 108.54,176.35 109.17,176.56 109.81,176.77 110.45,176.97 111.09,177.17 111.73,177.37 112.37,177.57 113.01,177.76 113.65,177.95 114.29,178.14 114.93,178.32 115.57,178.50 116.21,178.68 116.85,178.86 117.49,179.04 118.13,179.21 118.77,179.38 119.41,179.55 120.05,179.71 120.69,179.87 121.33,180.03 121.97,180.19 122.61,180.35 123.25,180.50 123.89,180.65 124.53,180.80 125.16,180.95 125.80,181.09 126.44,181.23 127.08,181.37 127.72,181.51 128.36,181.65 129.00,181.78 129.64,181.92 130.28,182.05 130.92,182.18 131.56,182.30 132.20,182.43 132.84,182.55 133.48,182.67 134.12,182.79 134.76,182.91 135.40,183.02 136.04,183.14 136.68,183.25 137.32,183.36 137.96,183.47 138.60,183.58 139.24,183.68 139.88,183.78 140.52,183.89 141.15,183.99 141.79,184.09 142.43,184.18 143.07,184.28 143.71,184.38 144.35,184.47 144.99,184.56 145.63,184.65 146.27,184.74 146.91,184.83 147.55,184.91 148.19,185.00 148.83,185.08 149.47,185.17 150.11,185.25 150.75,185.33 151.39,185.40 152.03,185.48 152.67,185.56 153.31,185.63 153.95,185.71 154.59,185.78 155.23,185.85 155.87,185.92 156.51,185.99 157.14,186.06 157.78,186.12 158.42,186.19 159.06,186.25 159.70,186.32 160.34,186.38 160.98,186.44 161.62,186.50 162.26,186.56 162.90,186.62 163.54,186.68 164.18,186.74 164.82,186.79 165.46,186.85 166.10,186.90 166.74,186.95 167.38,187.01 168.02,187.06 168.66,187.11 169.30,187.16 169.94,187.21 170.58,187.25 171.22,187.30 171.86,187.35 172.50,187.39 173.13,187.44 173.77,187.48 174.41,187.53 175.05,187.57 175.69,187.61 176.33,187.65 176.97,187.69 177.61,187.73 178.25,187.77 178.89,187.81 179.53,187.85 180.17,187.89 180.81,187.92 181.45,187.96 182.09,187.99 182.73,188.03 183.37,188.06 184.01,188.10 184.65,188.13 185.29,188.16 185.93,188.19 186.57,188.23 187.21,188.26 187.85,188.29 188.49,188.32 189.12,188.35 189.76,188.37 190.40,188.40 191.04,188.43 191.68,188.46 192.32,188.49 192.96,188.51 193.60,188.54 194.24,188.56 194.88,188.59 195.52,188.61 196.16,188.64 196.80,188.66 197.44,188.68 198.08,188.71 198.72,188.73 199.36,188.75 200.00,188.77 200.64,188.79 201.28,188.81 201.92,188.84 202.56,188.86 203.20,188.88 203.84,188.89 204.48,188.91 205.11,188.93 205.75,188.95 206.39,188.97 207.03,188.99 207.67,189.00 208.31,189.02 208.95,189.04 209.59,189.05 210.23,189.07 210.87,189.09 211.51,189.10 212.15,189.12 212.79,189.13 213.43,189.15 214.07,189.16 214.71,189.18 215.35,189.19 215.99,189.20 216.63,189.22 217.27,189.23 217.91,189.24 218.55,189.26 219.19,189.27 219.83,189.28 220.47,189.29 221.10,189.31 221.74,189.32 222.38,189.33 223.02,189.34 223.66,189.35 224.30,189.36 224.94,189.37 225.58,189.38 226.22,189.39 226.86,189.40 227.50,189.41 228.14,189.42 228.78,189.43 229.42,189.44 230.06,189.45 230.70,189.46 231.34,189.47 231.98,189.48 232.62,189.48 233.26,189.49 233.90,189.50 234.54,189.51 235.18,189.52 235.82,189.52 236.46,189.53 237.09,189.54 237.73,189.55 238.37,189.55 239.01,189.56 239.65,189.57 240.29,189.57 240.93,189.58 241.57,189.59 242.21,189.59 242.85,189.60 243.49,189.61 244.13,189.61 244.77,189.62 245.41,189.62 246.05,189.63 246.69,189.63 247.33,189.64 247.97,189.64 248.61,189.65 249.25,189.65 249.89,189.66 250.53,189.66 251.17,189.67 251.81,189.67 252.45,189.68" fill="none" stroke="#c20f35" stroke-width="1.85" stroke-linejoin="round"/>
<polyline clip-path="url(#ca)" points="37.54,-61.39 38.18,18.77 38.82,53.35 39.46,73.64 40.10,87.35 40.74,97.39 41.38,105.16 42.02,111.40 42.66,116.56 43.30,120.91 43.94,124.65 44.58,127.92 45.21,130.80 45.85,133.36 46.49,135.67 47.13,137.76 47.77,139.67 48.41,141.42 49.05,143.03 49.69,144.53 50.33,145.92 50.97,147.21 51.61,148.43 52.25,149.57 52.89,150.64 53.53,151.65 54.17,152.62 54.81,153.53 55.45,154.39 56.09,155.22 56.73,156.01 57.37,156.76 58.01,157.48 58.65,158.17 59.29,158.84 59.93,159.47 60.57,160.09 61.20,160.68 61.84,161.25 62.48,161.80 63.12,162.33 63.76,162.85 64.40,163.34 65.04,163.83 65.68,164.29 66.32,164.75 66.96,165.19 67.60,165.62 68.24,166.03 68.88,166.44 69.52,166.83 70.16,167.21 70.80,167.59 71.44,167.95 72.08,168.31 72.72,168.65 73.36,168.99 74.00,169.32 74.64,169.64 75.28,169.96 75.92,170.27 76.56,170.57 77.19,170.86 77.83,171.15 78.47,171.44 79.11,171.71 79.75,171.98 80.39,172.25 81.03,172.51 81.67,172.76 82.31,173.01 82.95,173.26 83.59,173.50 84.23,173.74 84.87,173.97 85.51,174.20 86.15,174.42 86.79,174.64 87.43,174.85 88.07,175.07 88.71,175.27 89.35,175.48 89.99,175.68 90.63,175.88 91.27,176.07 91.91,176.26 92.55,176.45 93.18,176.63 93.82,176.82 94.46,176.99 95.10,177.17 95.74,177.34 96.38,177.51 97.02,177.68 97.66,177.85 98.30,178.01 98.94,178.17 99.58,178.33 100.22,178.48 100.86,178.63 101.50,178.78 102.14,178.93 102.78,179.08 103.42,179.22 104.06,179.36 104.70,179.50 105.34,179.64 105.98,179.78 106.62,179.91 107.26,180.04 107.90,180.17 108.54,180.30 109.17,180.43 109.81,180.55 110.45,180.67 111.09,180.80 111.73,180.91 112.37,181.03 113.01,181.15 113.65,181.26 114.29,181.38 114.93,181.49 115.57,181.60 116.21,181.70 116.85,181.81 117.49,181.92 118.13,182.02 118.77,182.12 119.41,182.22 120.05,182.32 120.69,182.42 121.33,182.52 121.97,182.62 122.61,182.71 123.25,182.80 123.89,182.90 124.53,182.99 125.16,183.08 125.80,183.17 126.44,183.25 127.08,183.34 127.72,183.42 128.36,183.51 129.00,183.59 129.64,183.67 130.28,183.75 130.92,183.83 131.56,183.91 132.20,183.99 132.84,184.07 133.48,184.14 134.12,184.22 134.76,184.29 135.40,184.36 136.04,184.44 136.68,184.51 137.32,184.58 137.96,184.65 138.60,184.71 139.24,184.78 139.88,184.85 140.52,184.91 141.15,184.98 141.79,185.04 142.43,185.11 143.07,185.17 143.71,185.23 144.35,185.29 144.99,185.35 145.63,185.41 146.27,185.47 146.91,185.53 147.55,185.58 148.19,185.64 148.83,185.69 149.47,185.75 150.11,185.80 150.75,185.86 151.39,185.91 152.03,185.96 152.67,186.01 153.31,186.06 153.95,186.12 154.59,186.16 155.23,186.21 155.87,186.26 156.51,186.31 157.14,186.36 157.78,186.40 158.42,186.45 159.06,186.49 159.70,186.54 160.34,186.58 160.98,186.63 161.62,186.67 162.26,186.71 162.90,186.76 163.54,186.80 164.18,186.84 164.82,186.88 165.46,186.92 166.10,186.96 166.74,187.00 167.38,187.04 168.02,187.07 168.66,187.11 169.30,187.15 169.94,187.18 170.58,187.22 171.22,187.26 171.86,187.29 172.50,187.33 173.13,187.36 173.77,187.39 174.41,187.43 175.05,187.46 175.69,187.49 176.33,187.53 176.97,187.56 177.61,187.59 178.25,187.62 178.89,187.65 179.53,187.68 180.17,187.71 180.81,187.74 181.45,187.77 182.09,187.80 182.73,187.83 183.37,187.85 184.01,187.88 184.65,187.91 185.29,187.94 185.93,187.96 186.57,187.99 187.21,188.01 187.85,188.04 188.49,188.06 189.12,188.09 189.76,188.11 190.40,188.14 191.04,188.16 191.68,188.19 192.32,188.21 192.96,188.23 193.60,188.25 194.24,188.28 194.88,188.30 195.52,188.32 196.16,188.34 196.80,188.36 197.44,188.39 198.08,188.41 198.72,188.43 199.36,188.45 200.00,188.47 200.64,188.49 201.28,188.51 201.92,188.52 202.56,188.54 203.20,188.56 203.84,188.58 204.48,188.60 205.11,188.62 205.75,188.63 206.39,188.65 207.03,188.67 207.67,188.69 208.31,188.70 208.95,188.72 209.59,188.74 210.23,188.75 210.87,188.77 211.51,188.78 212.15,188.80 212.79,188.82 213.43,188.83 214.07,188.85 214.71,188.86 215.35,188.87 215.99,188.89 216.63,188.90 217.27,188.92 217.91,188.93 218.55,188.94 219.19,188.96 219.83,188.97 220.47,188.98 221.10,189.00 221.74,189.01 222.38,189.02 223.02,189.03 223.66,189.05 224.30,189.06 224.94,189.07 225.58,189.08 226.22,189.09 226.86,189.11 227.50,189.12 228.14,189.13 228.78,189.14 229.42,189.15 230.06,189.16 230.70,189.17 231.34,189.18 231.98,189.19 232.62,189.20 233.26,189.21 233.90,189.22 234.54,189.23 235.18,189.24 235.82,189.25 236.46,189.26 237.09,189.27 237.73,189.28 238.37,189.29 239.01,189.30 239.65,189.30 240.29,189.31 240.93,189.32 241.57,189.33 242.21,189.34 242.85,189.35 243.49,189.35 244.13,189.36 244.77,189.37 245.41,189.38 246.05,189.38 246.69,189.39 247.33,189.40 247.97,189.41 248.61,189.41 249.25,189.42 249.89,189.43 250.53,189.43 251.17,189.44 251.81,189.45 252.45,189.46" fill="none" stroke="#0070c0" stroke-width="1.85" stroke-linejoin="round"/>
<polyline clip-path="url(#cb)" points="337.31,123.07 337.72,108.51 338.12,100.00 338.53,93.97 338.94,89.30 339.35,85.50 339.76,82.30 340.16,79.54 340.57,77.11 340.98,74.96 341.39,73.02 341.80,71.25 342.20,69.65 342.61,68.17 343.02,66.81 343.43,65.54 343.84,64.37 344.24,63.27 344.65,62.25 345.06,61.29 345.47,60.39 345.88,59.54 346.28,58.74 346.69,57.99 347.10,57.28 347.51,56.61 347.92,55.97 348.32,55.38 348.73,54.81 349.14,54.28 349.55,53.77 349.96,53.29 350.36,52.84 350.77,52.42 351.18,52.02 351.59,51.64 352.00,51.29 352.40,50.95 352.81,50.64 353.22,50.35 353.63,50.07 354.04,49.82 354.44,49.58 354.85,49.36 355.26,49.16 355.67,48.97 356.08,48.80 356.48,48.64 356.89,48.50 357.30,48.38 357.71,48.27 358.12,48.17 358.52,48.09 358.93,48.02 359.34,47.97 359.75,47.92 360.16,47.89 360.56,47.87 360.97,47.87 361.38,47.88 361.79,47.90 362.20,47.93 362.60,47.97 363.01,48.02 363.42,48.09 363.83,48.16 364.24,48.25 364.64,48.35 365.05,48.45 365.46,48.57 365.87,48.70 366.28,48.84 366.68,48.99 367.09,49.15 367.50,49.32 367.91,49.49 368.32,49.68 368.72,49.88 369.13,50.09 369.54,50.31 369.95,50.53 370.36,50.77 370.76,51.01 371.17,51.27 371.58,51.53 371.99,51.80 372.40,52.08 372.80,52.37 373.21,52.67 373.62,52.98 374.03,53.29 374.44,53.62 374.84,53.95 375.25,54.29 375.66,54.64 376.07,55.00 376.48,55.37 376.88,55.74 377.29,56.12 377.70,56.51 378.11,56.91 378.52,57.32 378.92,57.74 379.33,58.16 379.74,58.59 380.15,59.03 380.56,59.48 380.96,59.93 381.37,60.40 381.78,60.87 382.19,61.35 382.60,61.83 383.00,62.33 383.41,62.83 383.82,63.34 384.23,63.86 384.64,64.38 385.04,64.92 385.45,65.46 385.86,66.00 386.27,66.56 386.68,67.12 387.08,67.69 387.49,68.27 387.90,68.85 388.31,69.45 388.72,70.05 389.12,70.65 389.53,71.27 389.94,71.89 390.35,72.52 390.76,73.16 391.16,73.80 391.57,74.45 391.98,75.11 392.39,75.77 392.80,76.45 393.20,77.13 393.61,77.81 394.02,78.51 394.43,79.21 394.84,79.92 395.24,80.63 395.65,81.36 396.06,82.09 396.47,82.82 396.88,83.57 397.28,84.32 397.69,85.07 398.10,85.84 398.51,86.61 398.92,87.39 399.32,88.17 399.73,88.97 400.14,89.77 400.55,90.57 400.96,91.39 401.36,92.21 401.77,93.03 402.18,93.87 402.59,94.71 403.00,95.56 403.40,96.41 403.81,97.27 404.22,98.14 404.63,99.02 405.04,99.90 405.44,100.79 405.85,101.68 406.26,102.59 406.67,103.50 407.08,104.41 407.48,105.33 407.89,106.26 408.30,107.20 408.71,108.14 409.12,109.09 409.52,110.05 409.93,111.01 410.34,111.98 410.75,112.96 411.16,113.94 411.56,114.93 411.97,115.93 412.38,116.93 412.79,117.94 413.20,118.96 413.60,119.98 414.01,121.01 414.42,122.05 414.83,123.09 415.24,124.14 415.64,125.20 416.05,126.26 416.46,127.33 416.87,128.41 417.28,129.49 417.68,130.58 418.09,131.68 418.50,132.78 418.91,133.89 419.32,135.01 419.72,136.13 420.13,137.26 420.54,138.39 420.95,139.53 421.36,140.68 421.76,141.84 422.17,143.00 422.58,144.17 422.99,145.34 423.40,146.53 423.80,147.71 424.21,148.91 424.62,150.11 425.03,151.32 425.44,152.53 425.84,153.75 426.25,154.98 426.66,156.21 427.07,157.45 427.48,158.70 427.88,159.95 428.29,161.21 428.70,162.48 429.11,163.75 429.52,165.03 429.92,166.31 430.33,167.60 430.74,168.90 431.15,170.21 431.56,171.52 431.96,172.84 432.37,174.16 432.78,175.49 433.19,176.83 433.60,178.17 434.00,179.52 434.41,180.88 434.82,182.24 435.23,183.61 435.64,184.98 436.04,186.37 436.45,187.75 436.86,189.15 437.27,190.55 437.68,191.96 438.08,193.37 438.49,194.79 438.90,196.22 439.31,197.65 439.72,199.09 440.12,200.54 440.53,201.99 440.94,203.45 441.35,204.91 441.76,206.38 442.16,207.86 442.57,209.35 442.98,210.84 443.39,212.33 443.80,213.84 444.20,215.35 444.61,216.86 445.02,218.38 445.43,219.91 445.84,221.45 446.24,222.99 446.65,224.54 447.06,226.09 447.47,227.65 447.88,229.22 448.28,230.79 448.69,232.37 449.10,233.96 449.51,235.55 449.92,237.15 450.32,238.75 450.73,240.36 451.14,241.98 451.55,243.61 451.96,245.24 452.36,246.87 452.77,248.51 453.18,250.16 453.59,251.82 454.00,253.48 454.40,255.15 454.81,256.82 455.22,258.50 455.63,260.19 456.04,261.88 456.44,263.58 456.85,265.29 457.26,267.00 457.67,268.72 458.08,270.44 458.48,272.17 458.89,273.91 459.30,275.66 459.71,277.41 460.12,279.16 460.52,280.92 460.93,282.69 461.34,284.47 461.75,286.25 462.16,288.04 462.56,289.83 462.97,291.63 463.38,293.44 463.79,295.25 464.20,297.07 464.60,298.89 465.01,300.73 465.42,302.56 465.83,304.41 466.24,306.26 466.64,308.11 467.05,309.98 467.46,311.85 467.87,313.72 468.28,315.60 468.68,317.49 469.09,319.39 469.50,321.29 469.91,323.19 470.32,325.11 470.72,327.02 471.13,328.95 471.54,330.88 471.95,332.82 472.36,334.76 472.76,335.16 473.17,335.16 473.58,335.16 473.99,335.16 474.40,335.16 474.80,335.16 475.21,335.16 475.62,335.16 476.03,335.16 476.44,335.16 476.84,335.16 477.25,335.16 477.66,335.16 478.07,335.16 478.48,335.16 478.88,335.16 479.29,335.16 479.70,335.16 480.11,335.16 480.52,335.16 480.92,335.16 481.33,335.16 481.74,335.16 482.15,335.16 482.56,335.16 482.96,335.16 483.37,335.16 483.78,335.16 484.19,335.16 484.60,335.16 485.00,335.16 485.41,335.16 485.82,335.16 486.23,335.16 486.64,335.16 487.04,335.16 487.45,335.16 487.86,335.16 488.27,335.16 488.68,335.16 489.08,335.16 489.49,335.16 489.90,335.16 490.31,335.16 490.72,335.16 491.12,335.16 491.53,335.16 491.94,335.16 492.35,335.16 492.76,335.16 493.16,335.16 493.57,335.16 493.98,335.16 494.39,335.16 494.80,335.16 495.20,335.16 495.61,335.16 496.02,335.16 496.43,335.16 496.84,335.16 497.24,335.16 497.65,335.16 498.06,335.16 498.47,335.16 498.88,335.16 499.28,335.16 499.69,335.16 500.10,335.16 500.51,335.16 500.92,335.16 501.32,335.16 501.73,335.16 502.14,335.16 502.55,335.16 502.96,335.16 503.36,335.16 503.77,335.16 504.18,335.16 504.59,335.16 505.00,335.16 505.40,335.16 505.81,335.16 506.22,335.16 506.63,335.16 507.04,335.16 507.44,335.16 507.85,335.16 508.26,335.16 508.67,335.16 509.08,335.16 509.48,335.16 509.89,335.16 510.30,335.16 510.71,335.16 511.12,335.16 511.52,335.16 511.93,335.16 512.34,335.16 512.75,335.16 513.16,335.16 513.56,335.16 513.97,335.16 514.38,335.16 514.79,335.16 515.20,335.16 515.60,335.16 516.01,335.16 516.42,335.16 516.83,335.16 517.24,335.16 517.64,335.16 518.05,335.16 518.46,335.16 518.87,335.16 519.28,335.16 519.68,335.16 520.09,335.16 520.50,335.16 520.91,335.16 521.32,335.16 521.72,335.16 522.13,335.16 522.54,335.16 522.95,335.16 523.36,335.16 523.76,335.16 524.17,335.16 524.58,335.16 524.99,335.16 525.40,335.16 525.80,335.16 526.21,335.16 526.62,335.16 527.03,335.16 527.44,335.16 527.84,335.16 528.25,335.16 528.66,335.16 529.07,335.16 529.48,335.16 529.88,335.16 530.29,335.16 530.70,335.16 531.11,335.16 531.52,335.16 531.92,335.16 532.33,335.16 532.74,335.16 533.15,335.16 533.56,335.16 533.96,335.16 534.37,335.16 534.78,335.16 535.19,335.16 535.60,335.16 536.00,335.16 536.41,335.16 536.82,335.16 537.23,335.16 537.64,335.16 538.04,335.16 538.45,335.16 538.86,335.16 539.27,335.16 539.68,335.16 540.08,335.16 540.49,335.16 540.90,335.16" fill="none" stroke="#0070c0" stroke-width="1.85" stroke-linejoin="round"/>
<polyline clip-path="url(#cb)" points="337.31,122.26 337.72,107.83 338.12,99.39 338.53,93.42 338.94,88.80 339.35,85.04 339.76,81.87 340.16,79.13 340.57,76.73 340.98,74.60 341.39,72.68 341.80,70.94 342.20,69.35 342.61,67.89 343.02,66.54 343.43,65.30 343.84,64.14 344.24,63.05 344.65,62.04 345.06,61.10 345.47,60.21 345.88,59.37 346.28,58.59 346.69,57.85 347.10,57.15 347.51,56.49 347.92,55.87 348.32,55.28 348.73,54.73 349.14,54.20 349.55,53.71 349.96,53.24 350.36,52.80 350.77,52.39 351.18,51.99 351.59,51.63 352.00,51.28 352.40,50.95 352.81,50.65 353.22,50.36 353.63,50.10 354.04,49.85 354.44,49.62 354.85,49.41 355.26,49.21 355.67,49.03 356.08,48.87 356.48,48.72 356.89,48.59 357.30,48.47 357.71,48.36 358.12,48.27 358.52,48.20 358.93,48.13 359.34,48.08 359.75,48.04 360.16,48.02 360.56,48.01 360.97,48.00 361.38,48.02 361.79,48.04 362.20,48.07 362.60,48.12 363.01,48.18 363.42,48.24 363.83,48.32 364.24,48.41 364.64,48.51 365.05,48.62 365.46,48.74 365.87,48.87 366.28,49.01 366.68,49.16 367.09,49.32 367.50,49.49 367.91,49.67 368.32,49.86 368.72,50.06 369.13,50.27 369.54,50.48 369.95,50.71 370.36,50.94 370.76,51.19 371.17,51.44 371.58,51.70 371.99,51.97 372.40,52.25 372.80,52.54 373.21,52.83 373.62,53.14 374.03,53.45 374.44,53.77 374.84,54.10 375.25,54.44 375.66,54.78 376.07,55.14 376.48,55.50 376.88,55.87 377.29,56.25 377.70,56.63 378.11,57.03 378.52,57.43 378.92,57.84 379.33,58.26 379.74,58.68 380.15,59.11 380.56,59.56 380.96,60.00 381.37,60.46 381.78,60.92 382.19,61.39 382.60,61.87 383.00,62.36 383.41,62.85 383.82,63.35 384.23,63.86 384.64,64.37 385.04,64.90 385.45,65.43 385.86,65.96 386.27,66.51 386.68,67.06 387.08,67.62 387.49,68.18 387.90,68.76 388.31,69.34 388.72,69.92 389.12,70.52 389.53,71.12 389.94,71.73 390.35,72.34 390.76,72.97 391.16,73.59 391.57,74.23 391.98,74.87 392.39,75.52 392.80,76.18 393.20,76.85 393.61,77.52 394.02,78.19 394.43,78.88 394.84,79.57 395.24,80.27 395.65,80.97 396.06,81.68 396.47,82.40 396.88,83.13 397.28,83.86 397.69,84.60 398.10,85.34 398.51,86.09 398.92,86.85 399.32,87.62 399.73,88.39 400.14,89.17 400.55,89.95 400.96,90.74 401.36,91.54 401.77,92.35 402.18,93.16 402.59,93.98 403.00,94.80 403.40,95.63 403.81,96.47 404.22,97.31 404.63,98.16 405.04,99.02 405.44,99.88 405.85,100.75 406.26,101.63 406.67,102.51 407.08,103.40 407.48,104.30 407.89,105.20 408.30,106.11 408.71,107.02 409.12,107.94 409.52,108.87 409.93,109.80 410.34,110.74 410.75,111.69 411.16,112.64 411.56,113.60 411.97,114.57 412.38,115.54 412.79,116.52 413.20,117.51 413.60,118.50 414.01,119.49 414.42,120.50 414.83,121.51 415.24,122.52 415.64,123.55 416.05,124.57 416.46,125.61 416.87,126.65 417.28,127.70 417.68,128.75 418.09,129.81 418.50,130.88 418.91,131.95 419.32,133.03 419.72,134.11 420.13,135.21 420.54,136.30 420.95,137.41 421.36,138.52 421.76,139.63 422.17,140.75 422.58,141.88 422.99,143.02 423.40,144.16 423.80,145.30 424.21,146.46 424.62,147.62 425.03,148.78 425.44,149.95 425.84,151.13 426.25,152.31 426.66,153.50 427.07,154.70 427.48,155.90 427.88,157.11 428.29,158.32 428.70,159.54 429.11,160.77 429.52,162.00 429.92,163.24 430.33,164.48 430.74,165.74 431.15,166.99 431.56,168.25 431.96,169.52 432.37,170.80 432.78,172.08 433.19,173.37 433.60,174.66 434.00,175.96 434.41,177.26 434.82,178.58 435.23,179.89 435.64,181.22 436.04,182.54 436.45,183.88 436.86,185.22 437.27,186.57 437.68,187.92 438.08,189.28 438.49,190.65 438.90,192.02 439.31,193.40 439.72,194.78 440.12,196.17 440.53,197.56 440.94,198.97 441.35,200.37 441.76,201.79 442.16,203.20 442.57,204.63 442.98,206.06 443.39,207.50 443.80,208.94 444.20,210.39 444.61,211.85 445.02,213.31 445.43,214.77 445.84,216.25 446.24,217.73 446.65,219.21 447.06,220.70 447.47,222.20 447.88,223.70 448.28,225.21 448.69,226.72 449.10,228.24 449.51,229.77 449.92,231.30 450.32,232.84 450.73,234.39 451.14,235.94 451.55,237.49 451.96,239.05 452.36,240.62 452.77,242.19 453.18,243.77 453.59,245.36 454.00,246.95 454.40,248.55 454.81,250.15 455.22,251.76 455.63,253.38 456.04,255.00 456.44,256.62 456.85,258.26 457.26,259.89 457.67,261.54 458.08,263.19 458.48,264.85 458.89,266.51 459.30,268.18 459.71,269.85 460.12,271.53 460.52,273.21 460.93,274.91 461.34,276.60 461.75,278.31 462.16,280.01 462.56,281.73 462.97,283.45 463.38,285.18 463.79,286.91 464.20,288.65 464.60,290.39 465.01,292.14 465.42,293.90 465.83,295.66 466.24,297.43 466.64,299.20 467.05,300.98 467.46,302.76 467.87,304.55 468.28,306.35 468.68,308.15 469.09,309.96 469.50,311.77 469.91,313.59 470.32,315.42 470.72,317.25 471.13,319.09 471.54,320.93 471.95,322.78 472.36,324.64 472.76,326.50 473.17,328.36 473.58,330.23 473.99,332.11 474.40,334.00 474.80,335.16 475.21,335.16 475.62,335.16 476.03,335.16 476.44,335.16 476.84,335.16 477.25,335.16 477.66,335.16 478.07,335.16 478.48,335.16 478.88,335.16 479.29,335.16 479.70,335.16 480.11,335.16 480.52,335.16 480.92,335.16 481.33,335.16 481.74,335.16 482.15,335.16 482.56,335.16 482.96,335.16 483.37,335.16 483.78,335.16 484.19,335.16 484.60,335.16 485.00,335.16 485.41,335.16 485.82,335.16 486.23,335.16 486.64,335.16 487.04,335.16 487.45,335.16 487.86,335.16 488.27,335.16 488.68,335.16 489.08,335.16 489.49,335.16 489.90,335.16 490.31,335.16 490.72,335.16 491.12,335.16 491.53,335.16 491.94,335.16 492.35,335.16 492.76,335.16 493.16,335.16 493.57,335.16 493.98,335.16 494.39,335.16 494.80,335.16 495.20,335.16 495.61,335.16 496.02,335.16 496.43,335.16 496.84,335.16 497.24,335.16 497.65,335.16 498.06,335.16 498.47,335.16 498.88,335.16 499.28,335.16 499.69,335.16 500.10,335.16 500.51,335.16 500.92,335.16 501.32,335.16 501.73,335.16 502.14,335.16 502.55,335.16 502.96,335.16 503.36,335.16 503.77,335.16 504.18,335.16 504.59,335.16 505.00,335.16 505.40,335.16 505.81,335.16 506.22,335.16 506.63,335.16 507.04,335.16 507.44,335.16 507.85,335.16 508.26,335.16 508.67,335.16 509.08,335.16 509.48,335.16 509.89,335.16 510.30,335.16 510.71,335.16 511.12,335.16 511.52,335.16 511.93,335.16 512.34,335.16 512.75,335.16 513.16,335.16 513.56,335.16 513.97,335.16 514.38,335.16 514.79,335.16 515.20,335.16 515.60,335.16 516.01,335.16 516.42,335.16 516.83,335.16 517.24,335.16 517.64,335.16 518.05,335.16 518.46,335.16 518.87,335.16 519.28,335.16 519.68,335.16 520.09,335.16 520.50,335.16 520.91,335.16 521.32,335.16 521.72,335.16 522.13,335.16 522.54,335.16 522.95,335.16 523.36,335.16 523.76,335.16 524.17,335.16 524.58,335.16 524.99,335.16 525.40,335.16 525.80,335.16 526.21,335.16 526.62,335.16 527.03,335.16 527.44,335.16 527.84,335.16 528.25,335.16 528.66,335.16 529.07,335.16 529.48,335.16 529.88,335.16 530.29,335.16 530.70,335.16 531.11,335.16 531.52,335.16 531.92,335.16 532.33,335.16 532.74,335.16 533.15,335.16 533.56,335.16 533.96,335.16 534.37,335.16 534.78,335.16 535.19,335.16 535.60,335.16 536.00,335.16 536.41,335.16 536.82,335.16 537.23,335.16 537.64,335.16 538.04,335.16 538.45,335.16 538.86,335.16 539.27,335.16 539.68,335.16 540.08,335.16 540.49,335.16 540.90,335.16" fill="none" stroke="#f64008" stroke-width="1.85" stroke-linejoin="round"/>
<polyline clip-path="url(#cb)" points="337.31,120.42 337.72,106.32 338.12,98.09 338.53,92.26 338.94,87.75 339.35,84.07 339.76,80.98 340.16,78.31 340.57,75.97 340.98,73.89 341.39,72.02 341.80,70.32 342.20,68.77 342.61,67.35 343.02,66.04 343.43,64.83 343.84,63.70 344.24,62.65 344.65,61.66 345.06,60.74 345.47,59.88 345.88,59.07 346.28,58.30 346.69,57.58 347.10,56.90 347.51,56.27 347.92,55.66 348.32,55.09 348.73,54.55 349.14,54.05 349.55,53.57 349.96,53.12 350.36,52.69 350.77,52.29 351.18,51.91 351.59,51.55 352.00,51.22 352.40,50.91 352.81,50.61 353.22,50.34 353.63,50.08 354.04,49.84 354.44,49.62 354.85,49.42 355.26,49.23 355.67,49.06 356.08,48.90 356.48,48.76 356.89,48.63 357.30,48.52 357.71,48.42 358.12,48.34 358.52,48.26 358.93,48.20 359.34,48.16 359.75,48.12 360.16,48.10 360.56,48.09 360.97,48.09 361.38,48.11 361.79,48.13 362.20,48.17 362.60,48.21 363.01,48.27 363.42,48.34 363.83,48.42 364.24,48.51 364.64,48.61 365.05,48.72 365.46,48.83 365.87,48.96 366.28,49.10 366.68,49.25 367.09,49.41 367.50,49.57 367.91,49.75 368.32,49.94 368.72,50.13 369.13,50.33 369.54,50.55 369.95,50.77 370.36,51.00 370.76,51.23 371.17,51.48 371.58,51.74 371.99,52.00 372.40,52.27 372.80,52.55 373.21,52.84 373.62,53.14 374.03,53.44 374.44,53.76 374.84,54.08 375.25,54.40 375.66,54.74 376.07,55.09 376.48,55.44 376.88,55.80 377.29,56.16 377.70,56.54 378.11,56.92 378.52,57.31 378.92,57.71 379.33,58.12 379.74,58.53 380.15,58.95 380.56,59.38 380.96,59.81 381.37,60.25 381.78,60.70 382.19,61.16 382.60,61.62 383.00,62.09 383.41,62.57 383.82,63.05 384.23,63.55 384.64,64.04 385.04,64.55 385.45,65.06 385.86,65.58 386.27,66.11 386.68,66.64 387.08,67.18 387.49,67.73 387.90,68.28 388.31,68.84 388.72,69.41 389.12,69.99 389.53,70.57 389.94,71.16 390.35,71.75 390.76,72.35 391.16,72.96 391.57,73.57 391.98,74.19 392.39,74.82 392.80,75.45 393.20,76.10 393.61,76.74 394.02,77.40 394.43,78.06 394.84,78.72 395.24,79.40 395.65,80.07 396.06,80.76 396.47,81.45 396.88,82.15 397.28,82.86 397.69,83.57 398.10,84.29 398.51,85.01 398.92,85.74 399.32,86.48 399.73,87.22 400.14,87.97 400.55,88.73 400.96,89.49 401.36,90.26 401.77,91.03 402.18,91.81 402.59,92.60 403.00,93.39 403.40,94.19 403.81,94.99 404.22,95.81 404.63,96.62 405.04,97.45 405.44,98.28 405.85,99.11 406.26,99.96 406.67,100.80 407.08,101.66 407.48,102.52 407.89,103.39 408.30,104.26 408.71,105.14 409.12,106.02 409.52,106.91 409.93,107.81 410.34,108.71 410.75,109.62 411.16,110.54 411.56,111.46 411.97,112.38 412.38,113.32 412.79,114.26 413.20,115.20 413.60,116.15 414.01,117.11 414.42,118.07 414.83,119.04 415.24,120.01 415.64,120.99 416.05,121.98 416.46,122.97 416.87,123.97 417.28,124.97 417.68,125.98 418.09,127.00 418.50,128.02 418.91,129.05 419.32,130.08 419.72,131.12 420.13,132.17 420.54,133.22 420.95,134.28 421.36,135.34 421.76,136.41 422.17,137.48 422.58,138.56 422.99,139.65 423.40,140.74 423.80,141.84 424.21,142.94 424.62,144.05 425.03,145.16 425.44,146.28 425.84,147.41 426.25,148.54 426.66,149.68 427.07,150.82 427.48,151.97 427.88,153.13 428.29,154.29 428.70,155.46 429.11,156.63 429.52,157.81 429.92,158.99 430.33,160.18 430.74,161.38 431.15,162.58 431.56,163.78 431.96,165.00 432.37,166.21 432.78,167.44 433.19,168.67 433.60,169.90 434.00,171.14 434.41,172.39 434.82,173.64 435.23,174.90 435.64,176.16 436.04,177.43 436.45,178.71 436.86,179.99 437.27,181.27 437.68,182.57 438.08,183.86 438.49,185.17 438.90,186.47 439.31,187.79 439.72,189.11 440.12,190.43 440.53,191.77 440.94,193.10 441.35,194.44 441.76,195.79 442.16,197.15 442.57,198.51 442.98,199.87 443.39,201.24 443.80,202.62 444.20,204.00 444.61,205.39 445.02,206.78 445.43,208.18 445.84,209.58 446.24,210.99 446.65,212.40 447.06,213.83 447.47,215.25 447.88,216.68 448.28,218.12 448.69,219.56 449.10,221.01 449.51,222.47 449.92,223.92 450.32,225.39 450.73,226.86 451.14,228.34 451.55,229.82 451.96,231.30 452.36,232.80 452.77,234.30 453.18,235.80 453.59,237.31 454.00,238.82 454.40,240.34 454.81,241.87 455.22,243.40 455.63,244.94 456.04,246.48 456.44,248.03 456.85,249.58 457.26,251.14 457.67,252.70 458.08,254.27 458.48,255.85 458.89,257.43 459.30,259.02 459.71,260.61 460.12,262.20 460.52,263.81 460.93,265.42 461.34,267.03 461.75,268.65 462.16,270.27 462.56,271.90 462.97,273.54 463.38,275.18 463.79,276.83 464.20,278.48 464.60,280.13 465.01,281.80 465.42,283.47 465.83,285.14 466.24,286.82 466.64,288.50 467.05,290.19 467.46,291.89 467.87,293.59 468.28,295.30 468.68,297.01 469.09,298.72 469.50,300.45 469.91,302.18 470.32,303.91 470.72,305.65 471.13,307.39 471.54,309.14 471.95,310.90 472.36,312.66 472.76,314.42 473.17,316.19 473.58,317.97 473.99,319.75 474.40,321.54 474.80,323.33 475.21,325.13 475.62,326.94 476.03,328.75 476.44,330.56 476.84,332.38 477.25,334.21 477.66,335.16 478.07,335.16 478.48,335.16 478.88,335.16 479.29,335.16 479.70,335.16 480.11,335.16 480.52,335.16 480.92,335.16 481.33,335.16 481.74,335.16 482.15,335.16 482.56,335.16 482.96,335.16 483.37,335.16 483.78,335.16 484.19,335.16 484.60,335.16 485.00,335.16 485.41,335.16 485.82,335.16 486.23,335.16 486.64,335.16 487.04,335.16 487.45,335.16 487.86,335.16 488.27,335.16 488.68,335.16 489.08,335.16 489.49,335.16 489.90,335.16 490.31,335.16 490.72,335.16 491.12,335.16 491.53,335.16 491.94,335.16 492.35,335.16 492.76,335.16 493.16,335.16 493.57,335.16 493.98,335.16 494.39,335.16 494.80,335.16 495.20,335.16 495.61,335.16 496.02,335.16 496.43,335.16 496.84,335.16 497.24,335.16 497.65,335.16 498.06,335.16 498.47,335.16 498.88,335.16 499.28,335.16 499.69,335.16 500.10,335.16 500.51,335.16 500.92,335.16 501.32,335.16 501.73,335.16 502.14,335.16 502.55,335.16 502.96,335.16 503.36,335.16 503.77,335.16 504.18,335.16 504.59,335.16 505.00,335.16 505.40,335.16 505.81,335.16 506.22,335.16 506.63,335.16 507.04,335.16 507.44,335.16 507.85,335.16 508.26,335.16 508.67,335.16 509.08,335.16 509.48,335.16 509.89,335.16 510.30,335.16 510.71,335.16 511.12,335.16 511.52,335.16 511.93,335.16 512.34,335.16 512.75,335.16 513.16,335.16 513.56,335.16 513.97,335.16 514.38,335.16 514.79,335.16 515.20,335.16 515.60,335.16 516.01,335.16 516.42,335.16 516.83,335.16 517.24,335.16 517.64,335.16 518.05,335.16 518.46,335.16 518.87,335.16 519.28,335.16 519.68,335.16 520.09,335.16 520.50,335.16 520.91,335.16 521.32,335.16 521.72,335.16 522.13,335.16 522.54,335.16 522.95,335.16 523.36,335.16 523.76,335.16 524.17,335.16 524.58,335.16 524.99,335.16 525.40,335.16 525.80,335.16 526.21,335.16 526.62,335.16 527.03,335.16 527.44,335.16 527.84,335.16 528.25,335.16 528.66,335.16 529.07,335.16 529.48,335.16 529.88,335.16 530.29,335.16 530.70,335.16 531.11,335.16 531.52,335.16 531.92,335.16 532.33,335.16 532.74,335.16 533.15,335.16 533.56,335.16 533.96,335.16 534.37,335.16 534.78,335.16 535.19,335.16 535.60,335.16 536.00,335.16 536.41,335.16 536.82,335.16 537.23,335.16 537.64,335.16 538.04,335.16 538.45,335.16 538.86,335.16 539.27,335.16 539.68,335.16 540.08,335.16 540.49,335.16 540.90,335.16" fill="none" stroke="#ffb000" stroke-width="1.85" stroke-linejoin="round"/>
<polyline clip-path="url(#cb)" points="337.31,112.95 337.72,99.55 338.12,91.74 338.53,86.23 338.94,81.98 339.35,78.53 339.76,75.64 340.16,73.17 340.57,71.00 340.98,69.09 341.39,67.37 341.80,65.83 342.20,64.43 342.61,63.16 343.02,61.99 343.43,60.91 343.84,59.92 344.24,59.00 344.65,58.15 345.06,57.36 345.47,56.62 345.88,55.94 346.28,55.30 346.69,54.70 347.10,54.15 347.51,53.63 347.92,53.14 348.32,52.69 348.73,52.27 349.14,51.88 349.55,51.51 349.96,51.17 350.36,50.86 350.77,50.57 351.18,50.30 351.59,50.05 352.00,49.82 352.40,49.62 352.81,49.43 353.22,49.25 353.63,49.10 354.04,48.96 354.44,48.84 354.85,48.74 355.26,48.65 355.67,48.57 356.08,48.51 356.48,48.46 356.89,48.42 357.30,48.40 357.71,48.39 358.12,48.39 358.52,48.41 358.93,48.43 359.34,48.47 359.75,48.52 360.16,48.58 360.56,48.64 360.97,48.72 361.38,48.81 361.79,48.91 362.20,49.02 362.60,49.14 363.01,49.27 363.42,49.40 363.83,49.55 364.24,49.70 364.64,49.87 365.05,50.04 365.46,50.22 365.87,50.41 366.28,50.60 366.68,50.80 367.09,51.02 367.50,51.24 367.91,51.46 368.32,51.70 368.72,51.94 369.13,52.19 369.54,52.44 369.95,52.71 370.36,52.98 370.76,53.25 371.17,53.54 371.58,53.83 371.99,54.12 372.40,54.43 372.80,54.74 373.21,55.05 373.62,55.37 374.03,55.70 374.44,56.04 374.84,56.38 375.25,56.73 375.66,57.08 376.07,57.44 376.48,57.80 376.88,58.17 377.29,58.55 377.70,58.93 378.11,59.32 378.52,59.71 378.92,60.11 379.33,60.51 379.74,60.92 380.15,61.34 380.56,61.76 380.96,62.19 381.37,62.62 381.78,63.05 382.19,63.49 382.60,63.94 383.00,64.39 383.41,64.85 383.82,65.31 384.23,65.78 384.64,66.25 385.04,66.72 385.45,67.21 385.86,67.69 386.27,68.18 386.68,68.68 387.08,69.18 387.49,69.69 387.90,70.20 388.31,70.71 388.72,71.23 389.12,71.75 389.53,72.28 389.94,72.81 390.35,73.35 390.76,73.89 391.16,74.44 391.57,74.99 391.98,75.55 392.39,76.11 392.80,76.67 393.20,77.24 393.61,77.81 394.02,78.39 394.43,78.97 394.84,79.55 395.24,80.14 395.65,80.74 396.06,81.33 396.47,81.94 396.88,82.54 397.28,83.15 397.69,83.77 398.10,84.39 398.51,85.01 398.92,85.64 399.32,86.27 399.73,86.90 400.14,87.54 400.55,88.18 400.96,88.83 401.36,89.48 401.77,90.13 402.18,90.79 402.59,91.45 403.00,92.12 403.40,92.79 403.81,93.46 404.22,94.14 404.63,94.82 405.04,95.51 405.44,96.20 405.85,96.89 406.26,97.59 406.67,98.29 407.08,98.99 407.48,99.70 407.89,100.41 408.30,101.12 408.71,101.84 409.12,102.56 409.52,103.29 409.93,104.02 410.34,104.75 410.75,105.49 411.16,106.23 411.56,106.97 411.97,107.72 412.38,108.47 412.79,109.23 413.20,109.98 413.60,110.74 414.01,111.51 414.42,112.28 414.83,113.05 415.24,113.82 415.64,114.60 416.05,115.39 416.46,116.17 416.87,116.96 417.28,117.75 417.68,118.55 418.09,119.35 418.50,120.15 418.91,120.96 419.32,121.77 419.72,122.58 420.13,123.39 420.54,124.21 420.95,125.04 421.36,125.86 421.76,126.69 422.17,127.52 422.58,128.36 422.99,129.20 423.40,130.04 423.80,130.89 424.21,131.73 424.62,132.59 425.03,133.44 425.44,134.30 425.84,135.16 426.25,136.03 426.66,136.89 427.07,137.77 427.48,138.64 427.88,139.52 428.29,140.40 428.70,141.28 429.11,142.17 429.52,143.06 429.92,143.95 430.33,144.85 430.74,145.75 431.15,146.65 431.56,147.56 431.96,148.47 432.37,149.38 432.78,150.29 433.19,151.21 433.60,152.13 434.00,153.06 434.41,153.98 434.82,154.91 435.23,155.85 435.64,156.78 436.04,157.72 436.45,158.66 436.86,159.61 437.27,160.56 437.68,161.51 438.08,162.46 438.49,163.42 438.90,164.38 439.31,165.34 439.72,166.31 440.12,167.28 440.53,168.25 440.94,169.23 441.35,170.20 441.76,171.19 442.16,172.17 442.57,173.16 442.98,174.15 443.39,175.14 443.80,176.13 444.20,177.13 444.61,178.13 445.02,179.14 445.43,180.14 445.84,181.15 446.24,182.17 446.65,183.18 447.06,184.20 447.47,185.22 447.88,186.25 448.28,187.27 448.69,188.30 449.10,189.34 449.51,190.37 449.92,191.41 450.32,192.45 450.73,193.49 451.14,194.54 451.55,195.59 451.96,196.64 452.36,197.70 452.77,198.76 453.18,199.82 453.59,200.88 454.00,201.95 454.40,203.01 454.81,204.09 455.22,205.16 455.63,206.24 456.04,207.32 456.44,208.40 456.85,209.49 457.26,210.57 457.67,211.66 458.08,212.76 458.48,213.85 458.89,214.95 459.30,216.06 459.71,217.16 460.12,218.27 460.52,219.38 460.93,220.49 461.34,221.60 461.75,222.72 462.16,223.84 462.56,224.97 462.97,226.09 463.38,227.22 463.79,228.35 464.20,229.49 464.60,230.62 465.01,231.76 465.42,232.90 465.83,234.05 466.24,235.19 466.64,236.34 467.05,237.50 467.46,238.65 467.87,239.81 468.28,240.97 468.68,242.13 469.09,243.30 469.50,244.47 469.91,245.64 470.32,246.81 470.72,247.98 471.13,249.16 471.54,250.34 471.95,251.53 472.36,252.71 472.76,253.90 473.17,255.09 473.58,256.29 473.99,257.48 474.40,258.68 474.80,259.88 475.21,261.09 475.62,262.30 476.03,263.50 476.44,264.72 476.84,265.93 477.25,267.15 477.66,268.37 478.07,269.59 478.48,270.81 478.88,272.04 479.29,273.27 479.70,274.50 480.11,275.73 480.52,276.97 480.92,278.21 481.33,279.45 481.74,280.70 482.15,281.94 482.56,283.19 482.96,284.45 483.37,285.70 483.78,286.96 484.19,288.22 484.60,289.48 485.00,290.74 485.41,292.01 485.82,293.28 486.23,294.55 486.64,295.82 487.04,297.10 487.45,298.38 487.86,299.66 488.27,300.95 488.68,302.23 489.08,303.52 489.49,304.81 489.90,306.11 490.31,307.40 490.72,308.70 491.12,310.00 491.53,311.30 491.94,312.61 492.35,313.92 492.76,315.23 493.16,316.54 493.57,317.86 493.98,319.18 494.39,320.50 494.80,321.82 495.20,323.14 495.61,324.47 496.02,325.80 496.43,327.13 496.84,328.47 497.24,329.81 497.65,331.14 498.06,332.49 498.47,333.83 498.88,335.16 499.28,335.16 499.69,335.16 500.10,335.16 500.51,335.16 500.92,335.16 501.32,335.16 501.73,335.16 502.14,335.16 502.55,335.16 502.96,335.16 503.36,335.16 503.77,335.16 504.18,335.16 504.59,335.16 505.00,335.16 505.40,335.16 505.81,335.16 506.22,335.16 506.63,335.16 507.04,335.16 507.44,335.16 507.85,335.16 508.26,335.16 508.67,335.16 509.08,335.16 509.48,335.16 509.89,335.16 510.30,335.16 510.71,335.16 511.12,335.16 511.52,335.16 511.93,335.16 512.34,335.16 512.75,335.16 513.16,335.16 513.56,335.16 513.97,335.16 514.38,335.16 514.79,335.16 515.20,335.16 515.60,335.16 516.01,335.16 516.42,335.16 516.83,335.16 517.24,335.16 517.64,335.16 518.05,335.16 518.46,335.16 518.87,335.16 519.28,335.16 519.68,335.16 520.09,335.16 520.50,335.16 520.91,335.16 521.32,335.16 521.72,335.16 522.13,335.16 522.54,335.16 522.95,335.16 523.36,335.16 523.76,335.16 524.17,335.16 524.58,335.16 524.99,335.16 525.40,335.16 525.80,335.16 526.21,335.16 526.62,335.16 527.03,335.16 527.44,335.16 527.84,335.16 528.25,335.16 528.66,335.16 529.07,335.16 529.48,335.16 529.88,335.16 530.29,335.16 530.70,335.16 531.11,335.16 531.52,335.16 531.92,335.16 532.33,335.16 532.74,335.16 533.15,335.16 533.56,335.16 533.96,335.16 534.37,335.16 534.78,335.16 535.19,335.16 535.60,335.16 536.00,335.16 536.41,335.16 536.82,335.16 537.23,335.16 537.64,335.16 538.04,335.16 538.45,335.16 538.86,335.16 539.27,335.16 539.68,335.16 540.08,335.16 540.49,335.16 540.90,335.16" fill="none" stroke="#8a2a96" stroke-width="1.85" stroke-linejoin="round"/>
<polyline clip-path="url(#cb)" points="337.31,107.98 337.72,94.67 338.12,86.95 338.53,81.54 338.94,77.40 339.35,74.06 339.76,71.28 340.16,68.90 340.57,66.85 340.98,65.04 341.39,63.44 341.80,62.01 342.20,60.72 342.61,59.56 343.02,58.50 343.43,57.54 343.84,56.66 344.24,55.85 344.65,55.11 345.06,54.42 345.47,53.80 345.88,53.22 346.28,52.69 346.69,52.20 347.10,51.75 347.51,51.34 347.92,50.96 348.32,50.61 348.73,50.29 349.14,50.00 349.55,49.74 349.96,49.50 350.36,49.28 350.77,49.09 351.18,48.92 351.59,48.77 352.00,48.63 352.40,48.52 352.81,48.42 353.22,48.34 353.63,48.28 354.04,48.23 354.44,48.20 354.85,48.18 355.26,48.17 355.67,48.18 356.08,48.20 356.48,48.24 356.89,48.28 357.30,48.34 357.71,48.41 358.12,48.49 358.52,48.58 358.93,48.68 359.34,48.79 359.75,48.90 360.16,49.03 360.56,49.17 360.97,49.32 361.38,49.48 361.79,49.64 362.20,49.81 362.60,49.99 363.01,50.18 363.42,50.38 363.83,50.58 364.24,50.79 364.64,51.01 365.05,51.24 365.46,51.47 365.87,51.71 366.28,51.96 366.68,52.21 367.09,52.47 367.50,52.74 367.91,53.01 368.32,53.28 368.72,53.57 369.13,53.86 369.54,54.15 369.95,54.45 370.36,54.76 370.76,55.07 371.17,55.39 371.58,55.71 371.99,56.04 372.40,56.37 372.80,56.71 373.21,57.05 373.62,57.40 374.03,57.76 374.44,58.11 374.84,58.48 375.25,58.84 375.66,59.21 376.07,59.59 376.48,59.97 376.88,60.36 377.29,60.74 377.70,61.14 378.11,61.54 378.52,61.94 378.92,62.34 379.33,62.75 379.74,63.17 380.15,63.59 380.56,64.01 380.96,64.43 381.37,64.86 381.78,65.30 382.19,65.73 382.60,66.18 383.00,66.62 383.41,67.07 383.82,67.52 384.23,67.98 384.64,68.44 385.04,68.90 385.45,69.36 385.86,69.83 386.27,70.31 386.68,70.78 387.08,71.26 387.49,71.75 387.90,72.23 388.31,72.72 388.72,73.21 389.12,73.71 389.53,74.21 389.94,74.71 390.35,75.22 390.76,75.72 391.16,76.24 391.57,76.75 391.98,77.27 392.39,77.79 392.80,78.31 393.20,78.84 393.61,79.37 394.02,79.90 394.43,80.43 394.84,80.97 395.24,81.51 395.65,82.05 396.06,82.60 396.47,83.15 396.88,83.70 397.28,84.25 397.69,84.81 398.10,85.37 398.51,85.93 398.92,86.50 399.32,87.07 399.73,87.64 400.14,88.21 400.55,88.78 400.96,89.36 401.36,89.94 401.77,90.52 402.18,91.11 402.59,91.70 403.00,92.29 403.40,92.88 403.81,93.47 404.22,94.07 404.63,94.67 405.04,95.27 405.44,95.88 405.85,96.49 406.26,97.10 406.67,97.71 407.08,98.32 407.48,98.94 407.89,99.56 408.30,100.18 408.71,100.80 409.12,101.43 409.52,102.05 409.93,102.68 410.34,103.32 410.75,103.95 411.16,104.59 411.56,105.22 411.97,105.87 412.38,106.51 412.79,107.15 413.20,107.80 413.60,108.45 414.01,109.10 414.42,109.75 414.83,110.41 415.24,111.07 415.64,111.73 416.05,112.39 416.46,113.05 416.87,113.72 417.28,114.39 417.68,115.06 418.09,115.73 418.50,116.40 418.91,117.08 419.32,117.76 419.72,118.44 420.13,119.12 420.54,119.80 420.95,120.49 421.36,121.18 421.76,121.86 422.17,122.56 422.58,123.25 422.99,123.95 423.40,124.64 423.80,125.34 424.21,126.04 424.62,126.74 425.03,127.45 425.44,128.16 425.84,128.86 426.25,129.57 426.66,130.29 427.07,131.00 427.48,131.72 427.88,132.43 428.29,133.15 428.70,133.87 429.11,134.60 429.52,135.32 429.92,136.05 430.33,136.78 430.74,137.51 431.15,138.24 431.56,138.97 431.96,139.70 432.37,140.44 432.78,141.18 433.19,141.92 433.60,142.66 434.00,143.41 434.41,144.15 434.82,144.90 435.23,145.65 435.64,146.40 436.04,147.15 436.45,147.90 436.86,148.66 437.27,149.42 437.68,150.17 438.08,150.93 438.49,151.70 438.90,152.46 439.31,153.22 439.72,153.99 440.12,154.76 440.53,155.53 440.94,156.30 441.35,157.07 441.76,157.85 442.16,158.63 442.57,159.40 442.98,160.18 443.39,160.96 443.80,161.75 444.20,162.53 444.61,163.32 445.02,164.10 445.43,164.89 445.84,165.68 446.24,166.47 446.65,167.27 447.06,168.06 447.47,168.86 447.88,169.66 448.28,170.46 448.69,171.26 449.10,172.06 449.51,172.86 449.92,173.67 450.32,174.48 450.73,175.28 451.14,176.09 451.55,176.91 451.96,177.72 452.36,178.53 452.77,179.35 453.18,180.17 453.59,180.98 454.00,181.80 454.40,182.63 454.81,183.45 455.22,184.27 455.63,185.10 456.04,185.93 456.44,186.75 456.85,187.58 457.26,188.42 457.67,189.25 458.08,190.08 458.48,190.92 458.89,191.76 459.30,192.59 459.71,193.43 460.12,194.27 460.52,195.12 460.93,195.96 461.34,196.81 461.75,197.65 462.16,198.50 462.56,199.35 462.97,200.20 463.38,201.05 463.79,201.91 464.20,202.76 464.60,203.62 465.01,204.48 465.42,205.33 465.83,206.19 466.24,207.06 466.64,207.92 467.05,208.78 467.46,209.65 467.87,210.52 468.28,211.38 468.68,212.25 469.09,213.12 469.50,214.00 469.91,214.87 470.32,215.74 470.72,216.62 471.13,217.50 471.54,218.38 471.95,219.26 472.36,220.14 472.76,221.02 473.17,221.90 473.58,222.79 473.99,223.67 474.40,224.56 474.80,225.45 475.21,226.34 475.62,227.23 476.03,228.12 476.44,229.02 476.84,229.91 477.25,230.81 477.66,231.71 478.07,232.60 478.48,233.50 478.88,234.41 479.29,235.31 479.70,236.21 480.11,237.12 480.52,238.02 480.92,238.93 481.33,239.84 481.74,240.75 482.15,241.66 482.56,242.57 482.96,243.48 483.37,244.40 483.78,245.31 484.19,246.23 484.60,247.15 485.00,248.07 485.41,248.99 485.82,249.91 486.23,250.83 486.64,251.76 487.04,252.68 487.45,253.61 487.86,254.54 488.27,255.47 488.68,256.40 489.08,257.33 489.49,258.26 489.90,259.19 490.31,260.13 490.72,261.06 491.12,262.00 491.53,262.94 491.94,263.88 492.35,264.82 492.76,265.76 493.16,266.70 493.57,267.65 493.98,268.59 494.39,269.54 494.80,270.48 495.20,271.43 495.61,272.38 496.02,273.33 496.43,274.28 496.84,275.24 497.24,276.19 497.65,277.15 498.06,278.10 498.47,279.06 498.88,280.02 499.28,280.98 499.69,281.94 500.10,282.90 500.51,283.86 500.92,284.83 501.32,285.79 501.73,286.76 502.14,287.73 502.55,288.69 502.96,289.66 503.36,290.63 503.77,291.61 504.18,292.58 504.59,293.55 505.00,294.53 505.40,295.50 505.81,296.48 506.22,297.46 506.63,298.44 507.04,299.42 507.44,300.40 507.85,301.38 508.26,302.37 508.67,303.35 509.08,304.34 509.48,305.32 509.89,306.31 510.30,307.30 510.71,308.29 511.12,309.28 511.52,310.27 511.93,311.26 512.34,312.26 512.75,313.25 513.16,314.25 513.56,315.25 513.97,316.25 514.38,317.24 514.79,318.25 515.20,319.25 515.60,320.25 516.01,321.25 516.42,322.26 516.83,323.26 517.24,324.27 517.64,325.28 518.05,326.28 518.46,327.29 518.87,328.30 519.28,329.32 519.68,330.33 520.09,331.34 520.50,332.36 520.91,333.37 521.32,334.39 521.72,335.16 522.13,335.16 522.54,335.16 522.95,335.16 523.36,335.16 523.76,335.16 524.17,335.16 524.58,335.16 524.99,335.16 525.40,335.16 525.80,335.16 526.21,335.16 526.62,335.16 527.03,335.16 527.44,335.16 527.84,335.16 528.25,335.16 528.66,335.16 529.07,335.16 529.48,335.16 529.88,335.16 530.29,335.16 530.70,335.16 531.11,335.16 531.52,335.16 531.92,335.16 532.33,335.16 532.74,335.16 533.15,335.16 533.56,335.16 533.96,335.16 534.37,335.16 534.78,335.16 535.19,335.16 535.60,335.16 536.00,335.16 536.41,335.16 536.82,335.16 537.23,335.16 537.64,335.16 538.04,335.16 538.45,335.16 538.86,335.16 539.27,335.16 539.68,335.16 540.08,335.16 540.49,335.16 540.90,335.16" fill="none" stroke="#4ca40a" stroke-width="1.85" stroke-linejoin="round"/>
<polyline clip-path="url(#cb)" points="337.31,80.39 337.72,72.32 338.12,67.69 338.53,64.47 338.94,62.04 339.35,60.10 339.76,58.50 340.16,57.16 340.57,56.02 340.98,55.03 341.39,54.17 341.80,53.41 342.20,52.74 342.61,52.15 343.02,51.62 343.43,51.15 343.84,50.73 344.24,50.36 344.65,50.03 345.06,49.74 345.47,49.49 345.88,49.26 346.28,49.06 346.69,48.89 347.10,48.74 347.51,48.62 347.92,48.52 348.32,48.43 348.73,48.37 349.14,48.32 349.55,48.29 349.96,48.27 350.36,48.27 350.77,48.29 351.18,48.31 351.59,48.35 352.00,48.40 352.40,48.47 352.81,48.54 353.22,48.62 353.63,48.72 354.04,48.82 354.44,48.94 354.85,49.06 355.26,49.19 355.67,49.33 356.08,49.48 356.48,49.63 356.89,49.79 357.30,49.96 357.71,50.14 358.12,50.32 358.52,50.51 358.93,50.71 359.34,50.91 359.75,51.12 360.16,51.33 360.56,51.55 360.97,51.78 361.38,52.01 361.79,52.24 362.20,52.49 362.60,52.73 363.01,52.98 363.42,53.24 363.83,53.50 364.24,53.77 364.64,54.04 365.05,54.31 365.46,54.59 365.87,54.87 366.28,55.16 366.68,55.45 367.09,55.74 367.50,56.04 367.91,56.34 368.32,56.65 368.72,56.96 369.13,57.27 369.54,57.59 369.95,57.91 370.36,58.23 370.76,58.56 371.17,58.89 371.58,59.22 371.99,59.56 372.40,59.90 372.80,60.24 373.21,60.59 373.62,60.94 374.03,61.29 374.44,61.64 374.84,62.00 375.25,62.36 375.66,62.72 376.07,63.09 376.48,63.46 376.88,63.83 377.29,64.20 377.70,64.58 378.11,64.96 378.52,65.34 378.92,65.72 379.33,66.11 379.74,66.50 380.15,66.89 380.56,67.28 380.96,67.68 381.37,68.08 381.78,68.48 382.19,68.88 382.60,69.28 383.00,69.69 383.41,70.10 383.82,70.51 384.23,70.92 384.64,71.34 385.04,71.76 385.45,72.18 385.86,72.60 386.27,73.02 386.68,73.45 387.08,73.88 387.49,74.31 387.90,74.74 388.31,75.17 388.72,75.61 389.12,76.04 389.53,76.48 389.94,76.92 390.35,77.37 390.76,77.81 391.16,78.26 391.57,78.71 391.98,79.16 392.39,79.61 392.80,80.06 393.20,80.52 393.61,80.97 394.02,81.43 394.43,81.89 394.84,82.35 395.24,82.82 395.65,83.28 396.06,83.75 396.47,84.22 396.88,84.69 397.28,85.16 397.69,85.63 398.10,86.11 398.51,86.58 398.92,87.06 399.32,87.54 399.73,88.02 400.14,88.50 400.55,88.99 400.96,89.47 401.36,89.96 401.77,90.45 402.18,90.94 402.59,91.43 403.00,91.92 403.40,92.41 403.81,92.91 404.22,93.41 404.63,93.90 405.04,94.40 405.44,94.90 405.85,95.41 406.26,95.91 406.67,96.41 407.08,96.92 407.48,97.43 407.89,97.94 408.30,98.45 408.71,98.96 409.12,99.47 409.52,99.98 409.93,100.50 410.34,101.02 410.75,101.53 411.16,102.05 411.56,102.57 411.97,103.09 412.38,103.62 412.79,104.14 413.20,104.67 413.60,105.19 414.01,105.72 414.42,106.25 414.83,106.78 415.24,107.31 415.64,107.84 416.05,108.37 416.46,108.91 416.87,109.44 417.28,109.98 417.68,110.52 418.09,111.06 418.50,111.60 418.91,112.14 419.32,112.68 419.72,113.23 420.13,113.77 420.54,114.32 420.95,114.86 421.36,115.41 421.76,115.96 422.17,116.51 422.58,117.06 422.99,117.61 423.40,118.17 423.80,118.72 424.21,119.28 424.62,119.83 425.03,120.39 425.44,120.95 425.84,121.51 426.25,122.07 426.66,122.63 427.07,123.19 427.48,123.76 427.88,124.32 428.29,124.89 428.70,125.45 429.11,126.02 429.52,126.59 429.92,127.16 430.33,127.73 430.74,128.30 431.15,128.87 431.56,129.45 431.96,130.02 432.37,130.59 432.78,131.17 433.19,131.75 433.60,132.33 434.00,132.91 434.41,133.49 434.82,134.07 435.23,134.65 435.64,135.23 436.04,135.81 436.45,136.40 436.86,136.98 437.27,137.57 437.68,138.16 438.08,138.75 438.49,139.34 438.90,139.93 439.31,140.52 439.72,141.11 440.12,141.70 440.53,142.29 440.94,142.89 441.35,143.48 441.76,144.08 442.16,144.68 442.57,145.28 442.98,145.87 443.39,146.47 443.80,147.07 444.20,147.68 444.61,148.28 445.02,148.88 445.43,149.48 445.84,150.09 446.24,150.69 446.65,151.30 447.06,151.91 447.47,152.52 447.88,153.13 448.28,153.73 448.69,154.35 449.10,154.96 449.51,155.57 449.92,156.18 450.32,156.80 450.73,157.41 451.14,158.02 451.55,158.64 451.96,159.26 452.36,159.88 452.77,160.49 453.18,161.11 453.59,161.73 454.00,162.35 454.40,162.98 454.81,163.60 455.22,164.22 455.63,164.85 456.04,165.47 456.44,166.10 456.85,166.72 457.26,167.35 457.67,167.98 458.08,168.60 458.48,169.23 458.89,169.86 459.30,170.49 459.71,171.13 460.12,171.76 460.52,172.39 460.93,173.02 461.34,173.66 461.75,174.29 462.16,174.93 462.56,175.57 462.97,176.20 463.38,176.84 463.79,177.48 464.20,178.12 464.60,178.76 465.01,179.40 465.42,180.04 465.83,180.69 466.24,181.33 466.64,181.97 467.05,182.62 467.46,183.26 467.87,183.91 468.28,184.55 468.68,185.20 469.09,185.85 469.50,186.50 469.91,187.15 470.32,187.80 470.72,188.45 471.13,189.10 471.54,189.75 471.95,190.40 472.36,191.06 472.76,191.71 473.17,192.37 473.58,193.02 473.99,193.68 474.40,194.34 474.80,194.99 475.21,195.65 475.62,196.31 476.03,196.97 476.44,197.63 476.84,198.29 477.25,198.95 477.66,199.61 478.07,200.28 478.48,200.94 478.88,201.60 479.29,202.27 479.70,202.93 480.11,203.60 480.52,204.27 480.92,204.93 481.33,205.60 481.74,206.27 482.15,206.94 482.56,207.61 482.96,208.28 483.37,208.95 483.78,209.62 484.19,210.30 484.60,210.97 485.00,211.64 485.41,212.32 485.82,212.99 486.23,213.67 486.64,214.34 487.04,215.02 487.45,215.70 487.86,216.37 488.27,217.05 488.68,217.73 489.08,218.41 489.49,219.09 489.90,219.77 490.31,220.45 490.72,221.14 491.12,221.82 491.53,222.50 491.94,223.19 492.35,223.87 492.76,224.56 493.16,225.24 493.57,225.93 493.98,226.62 494.39,227.30 494.80,227.99 495.20,228.68 495.61,229.37 496.02,230.06 496.43,230.75 496.84,231.44 497.24,232.13 497.65,232.83 498.06,233.52 498.47,234.21 498.88,234.91 499.28,235.60 499.69,236.30 500.10,236.99 500.51,237.69 500.92,238.38 501.32,239.08 501.73,239.78 502.14,240.48 502.55,241.18 502.96,241.88 503.36,242.58 503.77,243.28 504.18,243.98 504.59,244.68 505.00,245.38 505.40,246.09 505.81,246.79 506.22,247.50 506.63,248.20 507.04,248.91 507.44,249.61 507.85,250.32 508.26,251.02 508.67,251.73 509.08,252.44 509.48,253.15 509.89,253.86 510.30,254.57 510.71,255.28 511.12,255.99 511.52,256.70 511.93,257.41 512.34,258.12 512.75,258.84 513.16,259.55 513.56,260.26 513.97,260.98 514.38,261.69 514.79,262.41 515.20,263.12 515.60,263.84 516.01,264.56 516.42,265.28 516.83,265.99 517.24,266.71 517.64,267.43 518.05,268.15 518.46,268.87 518.87,269.59 519.28,270.31 519.68,271.04 520.09,271.76 520.50,272.48 520.91,273.21 521.32,273.93 521.72,274.65 522.13,275.38 522.54,276.10 522.95,276.83 523.36,277.56 523.76,278.28 524.17,279.01 524.58,279.74 524.99,280.47 525.40,281.20 525.80,281.93 526.21,282.66 526.62,283.39 527.03,284.12 527.44,284.85 527.84,285.58 528.25,286.31 528.66,287.05 529.07,287.78 529.48,288.51 529.88,289.25 530.29,289.98 530.70,290.72 531.11,291.45 531.52,292.19 531.92,292.93 532.33,293.67 532.74,294.40 533.15,295.14 533.56,295.88 533.96,296.62 534.37,297.36 534.78,298.10 535.19,298.84 535.60,299.58 536.00,300.32 536.41,301.07 536.82,301.81 537.23,302.55 537.64,303.30 538.04,304.04 538.45,304.78 538.86,305.53 539.27,306.28 539.68,307.02 540.08,307.77 540.49,308.51 540.90,309.26" fill="none" stroke="#10b6ea" stroke-width="1.85" stroke-linejoin="round"/>
<polyline clip-path="url(#cb)" points="337.31,31.54 337.72,34.56 338.12,36.36 338.53,37.68 338.94,38.72 339.35,39.60 339.76,40.37 340.16,41.05 340.57,41.67 340.98,42.25 341.39,42.78 341.80,43.29 342.20,43.76 342.61,44.22 343.02,44.66 343.43,45.08 343.84,45.49 344.24,45.89 344.65,46.28 345.06,46.65 345.47,47.02 345.88,47.39 346.28,47.74 346.69,48.10 347.10,48.44 347.51,48.79 347.92,49.12 348.32,49.46 348.73,49.79 349.14,50.12 349.55,50.44 349.96,50.77 350.36,51.09 350.77,51.41 351.18,51.73 351.59,52.04 352.00,52.36 352.40,52.67 352.81,52.98 353.22,53.29 353.63,53.61 354.04,53.91 354.44,54.22 354.85,54.53 355.26,54.84 355.67,55.15 356.08,55.45 356.48,55.76 356.89,56.07 357.30,56.37 357.71,56.68 358.12,56.98 358.52,57.29 358.93,57.59 359.34,57.90 359.75,58.20 360.16,58.51 360.56,58.81 360.97,59.12 361.38,59.42 361.79,59.73 362.20,60.04 362.60,60.34 363.01,60.65 363.42,60.96 363.83,61.26 364.24,61.57 364.64,61.88 365.05,62.18 365.46,62.49 365.87,62.80 366.28,63.11 366.68,63.42 367.09,63.73 367.50,64.04 367.91,64.35 368.32,64.66 368.72,64.97 369.13,65.28 369.54,65.59 369.95,65.90 370.36,66.22 370.76,66.53 371.17,66.84 371.58,67.16 371.99,67.47 372.40,67.79 372.80,68.10 373.21,68.42 373.62,68.73 374.03,69.05 374.44,69.37 374.84,69.69 375.25,70.00 375.66,70.32 376.07,70.64 376.48,70.96 376.88,71.28 377.29,71.60 377.70,71.93 378.11,72.25 378.52,72.57 378.92,72.89 379.33,73.22 379.74,73.54 380.15,73.87 380.56,74.19 380.96,74.52 381.37,74.84 381.78,75.17 382.19,75.50 382.60,75.82 383.00,76.15 383.41,76.48 383.82,76.81 384.23,77.14 384.64,77.47 385.04,77.80 385.45,78.13 385.86,78.47 386.27,78.80 386.68,79.13 387.08,79.47 387.49,79.80 387.90,80.14 388.31,80.47 388.72,80.81 389.12,81.14 389.53,81.48 389.94,81.82 390.35,82.16 390.76,82.50 391.16,82.84 391.57,83.18 391.98,83.52 392.39,83.86 392.80,84.20 393.20,84.54 393.61,84.88 394.02,85.23 394.43,85.57 394.84,85.91 395.24,86.26 395.65,86.60 396.06,86.95 396.47,87.30 396.88,87.64 397.28,87.99 397.69,88.34 398.10,88.69 398.51,89.04 398.92,89.39 399.32,89.74 399.73,90.09 400.14,90.44 400.55,90.79 400.96,91.14 401.36,91.50 401.77,91.85 402.18,92.20 402.59,92.56 403.00,92.91 403.40,93.27 403.81,93.62 404.22,93.98 404.63,94.34 405.04,94.69 405.44,95.05 405.85,95.41 406.26,95.77 406.67,96.13 407.08,96.49 407.48,96.85 407.89,97.21 408.30,97.57 408.71,97.94 409.12,98.30 409.52,98.66 409.93,99.03 410.34,99.39 410.75,99.75 411.16,100.12 411.56,100.49 411.97,100.85 412.38,101.22 412.79,101.59 413.20,101.95 413.60,102.32 414.01,102.69 414.42,103.06 414.83,103.43 415.24,103.80 415.64,104.17 416.05,104.54 416.46,104.92 416.87,105.29 417.28,105.66 417.68,106.03 418.09,106.41 418.50,106.78 418.91,107.16 419.32,107.53 419.72,107.91 420.13,108.29 420.54,108.66 420.95,109.04 421.36,109.42 421.76,109.80 422.17,110.17 422.58,110.55 422.99,110.93 423.40,111.31 423.80,111.69 424.21,112.08 424.62,112.46 425.03,112.84 425.44,113.22 425.84,113.61 426.25,113.99 426.66,114.37 427.07,114.76 427.48,115.14 427.88,115.53 428.29,115.91 428.70,116.30 429.11,116.69 429.52,117.07 429.92,117.46 430.33,117.85 430.74,118.24 431.15,118.63 431.56,119.02 431.96,119.41 432.37,119.80 432.78,120.19 433.19,120.58 433.60,120.97 434.00,121.37 434.41,121.76 434.82,122.15 435.23,122.55 435.64,122.94 436.04,123.34 436.45,123.73 436.86,124.13 437.27,124.52 437.68,124.92 438.08,125.32 438.49,125.71 438.90,126.11 439.31,126.51 439.72,126.91 440.12,127.31 440.53,127.71 440.94,128.11 441.35,128.51 441.76,128.91 442.16,129.31 442.57,129.72 442.98,130.12 443.39,130.52 443.80,130.92 444.20,131.33 444.61,131.73 445.02,132.14 445.43,132.54 445.84,132.95 446.24,133.35 446.65,133.76 447.06,134.17 447.47,134.57 447.88,134.98 448.28,135.39 448.69,135.80 449.10,136.21 449.51,136.62 449.92,137.03 450.32,137.44 450.73,137.85 451.14,138.26 451.55,138.67 451.96,139.08 452.36,139.49 452.77,139.91 453.18,140.32 453.59,140.73 454.00,141.15 454.40,141.56 454.81,141.98 455.22,142.39 455.63,142.81 456.04,143.23 456.44,143.64 456.85,144.06 457.26,144.48 457.67,144.89 458.08,145.31 458.48,145.73 458.89,146.15 459.30,146.57 459.71,146.99 460.12,147.41 460.52,147.83 460.93,148.25 461.34,148.67 461.75,149.10 462.16,149.52 462.56,149.94 462.97,150.36 463.38,150.79 463.79,151.21 464.20,151.64 464.60,152.06 465.01,152.49 465.42,152.91 465.83,153.34 466.24,153.76 466.64,154.19 467.05,154.62 467.46,155.05 467.87,155.47 468.28,155.90 468.68,156.33 469.09,156.76 469.50,157.19 469.91,157.62 470.32,158.05 470.72,158.48 471.13,158.91 471.54,159.34 471.95,159.78 472.36,160.21 472.76,160.64 473.17,161.07 473.58,161.51 473.99,161.94 474.40,162.38 474.80,162.81 475.21,163.25 475.62,163.68 476.03,164.12 476.44,164.55 476.84,164.99 477.25,165.43 477.66,165.87 478.07,166.30 478.48,166.74 478.88,167.18 479.29,167.62 479.70,168.06 480.11,168.50 480.52,168.94 480.92,169.38 481.33,169.82 481.74,170.26 482.15,170.70 482.56,171.14 482.96,171.59 483.37,172.03 483.78,172.47 484.19,172.92 484.60,173.36 485.00,173.80 485.41,174.25 485.82,174.69 486.23,175.14 486.64,175.58 487.04,176.03 487.45,176.48 487.86,176.92 488.27,177.37 488.68,177.82 489.08,178.27 489.49,178.72 489.90,179.16 490.31,179.61 490.72,180.06 491.12,180.51 491.53,180.96 491.94,181.41 492.35,181.86 492.76,182.31 493.16,182.77 493.57,183.22 493.98,183.67 494.39,184.12 494.80,184.58 495.20,185.03 495.61,185.48 496.02,185.94 496.43,186.39 496.84,186.85 497.24,187.30 497.65,187.76 498.06,188.21 498.47,188.67 498.88,189.13 499.28,189.58 499.69,190.04 500.10,190.50 500.51,190.96 500.92,191.41 501.32,191.87 501.73,192.33 502.14,192.79 502.55,193.25 502.96,193.71 503.36,194.17 503.77,194.63 504.18,195.09 504.59,195.56 505.00,196.02 505.40,196.48 505.81,196.94 506.22,197.41 506.63,197.87 507.04,198.33 507.44,198.80 507.85,199.26 508.26,199.73 508.67,200.19 509.08,200.66 509.48,201.12 509.89,201.59 510.30,202.05 510.71,202.52 511.12,202.99 511.52,203.45 511.93,203.92 512.34,204.39 512.75,204.86 513.16,205.33 513.56,205.80 513.97,206.27 514.38,206.74 514.79,207.21 515.20,207.68 515.60,208.15 516.01,208.62 516.42,209.09 516.83,209.56 517.24,210.03 517.64,210.51 518.05,210.98 518.46,211.45 518.87,211.93 519.28,212.40 519.68,212.87 520.09,213.35 520.50,213.82 520.91,214.30 521.32,214.77 521.72,215.25 522.13,215.72 522.54,216.20 522.95,216.68 523.36,217.16 523.76,217.63 524.17,218.11 524.58,218.59 524.99,219.07 525.40,219.55 525.80,220.02 526.21,220.50 526.62,220.98 527.03,221.46 527.44,221.94 527.84,222.42 528.25,222.91 528.66,223.39 529.07,223.87 529.48,224.35 529.88,224.83 530.29,225.32 530.70,225.80 531.11,226.28 531.52,226.76 531.92,227.25 532.33,227.73 532.74,228.22 533.15,228.70 533.56,229.19 533.96,229.67 534.37,230.16 534.78,230.64 535.19,231.13 535.60,231.62 536.00,232.10 536.41,232.59 536.82,233.08 537.23,233.57 537.64,234.06 538.04,234.54 538.45,235.03 538.86,235.52 539.27,236.01 539.68,236.50 540.08,236.99 540.49,237.48 540.90,237.97" fill="none" stroke="#c20f35" stroke-width="1.85" stroke-linejoin="round"/>
<polyline clip-path="url(#cb)" points="337.31,14.42 337.72,22.50 338.12,27.24 338.53,30.63 338.94,33.27 339.35,35.43 339.76,37.28 340.16,38.89 340.57,40.32 340.98,41.60 341.39,42.78 341.80,43.85 342.20,44.85 342.61,45.79 343.02,46.67 343.43,47.49 343.84,48.28 344.24,49.02 344.65,49.73 345.06,50.41 345.47,51.07 345.88,51.70 346.28,52.30 346.69,52.89 347.10,53.46 347.51,54.01 347.92,54.54 348.32,55.06 348.73,55.57 349.14,56.06 349.55,56.55 349.96,57.02 350.36,57.48 350.77,57.94 351.18,58.38 351.59,58.82 352.00,59.24 352.40,59.67 352.81,60.08 353.22,60.49 353.63,60.89 354.04,61.29 354.44,61.68 354.85,62.06 355.26,62.44 355.67,62.82 356.08,63.19 356.48,63.56 356.89,63.92 357.30,64.28 357.71,64.64 358.12,64.99 358.52,65.34 358.93,65.68 359.34,66.03 359.75,66.37 360.16,66.71 360.56,67.04 360.97,67.37 361.38,67.70 361.79,68.03 362.20,68.36 362.60,68.68 363.01,69.00 363.42,69.32 363.83,69.64 364.24,69.95 364.64,70.27 365.05,70.58 365.46,70.89 365.87,71.20 366.28,71.51 366.68,71.81 367.09,72.12 367.50,72.42 367.91,72.73 368.32,73.03 368.72,73.33 369.13,73.63 369.54,73.92 369.95,74.22 370.36,74.52 370.76,74.81 371.17,75.11 371.58,75.40 371.99,75.69 372.40,75.98 372.80,76.27 373.21,76.56 373.62,76.85 374.03,77.14 374.44,77.43 374.84,77.72 375.25,78.00 375.66,78.29 376.07,78.57 376.48,78.86 376.88,79.14 377.29,79.43 377.70,79.71 378.11,79.99 378.52,80.27 378.92,80.56 379.33,80.84 379.74,81.12 380.15,81.40 380.56,81.68 380.96,81.96 381.37,82.24 381.78,82.52 382.19,82.80 382.60,83.08 383.00,83.35 383.41,83.63 383.82,83.91 384.23,84.19 384.64,84.47 385.04,84.74 385.45,85.02 385.86,85.30 386.27,85.57 386.68,85.85 387.08,86.12 387.49,86.40 387.90,86.68 388.31,86.95 388.72,87.23 389.12,87.50 389.53,87.78 389.94,88.05 390.35,88.33 390.76,88.60 391.16,88.88 391.57,89.15 391.98,89.43 392.39,89.70 392.80,89.98 393.20,90.25 393.61,90.53 394.02,90.80 394.43,91.08 394.84,91.35 395.24,91.63 395.65,91.90 396.06,92.18 396.47,92.45 396.88,92.72 397.28,93.00 397.69,93.27 398.10,93.55 398.51,93.82 398.92,94.10 399.32,94.37 399.73,94.65 400.14,94.92 400.55,95.20 400.96,95.47 401.36,95.75 401.77,96.02 402.18,96.30 402.59,96.57 403.00,96.85 403.40,97.12 403.81,97.40 404.22,97.67 404.63,97.95 405.04,98.22 405.44,98.50 405.85,98.77 406.26,99.05 406.67,99.33 407.08,99.60 407.48,99.88 407.89,100.15 408.30,100.43 408.71,100.71 409.12,100.98 409.52,101.26 409.93,101.54 410.34,101.81 410.75,102.09 411.16,102.37 411.56,102.65 411.97,102.92 412.38,103.20 412.79,103.48 413.20,103.76 413.60,104.03 414.01,104.31 414.42,104.59 414.83,104.87 415.24,105.15 415.64,105.43 416.05,105.71 416.46,105.98 416.87,106.26 417.28,106.54 417.68,106.82 418.09,107.10 418.50,107.38 418.91,107.66 419.32,107.94 419.72,108.22 420.13,108.50 420.54,108.78 420.95,109.06 421.36,109.35 421.76,109.63 422.17,109.91 422.58,110.19 422.99,110.47 423.40,110.75 423.80,111.04 424.21,111.32 424.62,111.60 425.03,111.88 425.44,112.17 425.84,112.45 426.25,112.73 426.66,113.02 427.07,113.30 427.48,113.58 427.88,113.87 428.29,114.15 428.70,114.44 429.11,114.72 429.52,115.01 429.92,115.29 430.33,115.58 430.74,115.86 431.15,116.15 431.56,116.43 431.96,116.72 432.37,117.00 432.78,117.29 433.19,117.58 433.60,117.86 434.00,118.15 434.41,118.44 434.82,118.73 435.23,119.01 435.64,119.30 436.04,119.59 436.45,119.88 436.86,120.17 437.27,120.46 437.68,120.74 438.08,121.03 438.49,121.32 438.90,121.61 439.31,121.90 439.72,122.19 440.12,122.48 440.53,122.77 440.94,123.06 441.35,123.35 441.76,123.65 442.16,123.94 442.57,124.23 442.98,124.52 443.39,124.81 443.80,125.10 444.20,125.40 444.61,125.69 445.02,125.98 445.43,126.27 445.84,126.57 446.24,126.86 446.65,127.16 447.06,127.45 447.47,127.74 447.88,128.04 448.28,128.33 448.69,128.63 449.10,128.92 449.51,129.22 449.92,129.51 450.32,129.81 450.73,130.10 451.14,130.40 451.55,130.70 451.96,130.99 452.36,131.29 452.77,131.59 453.18,131.89 453.59,132.18 454.00,132.48 454.40,132.78 454.81,133.08 455.22,133.38 455.63,133.67 456.04,133.97 456.44,134.27 456.85,134.57 457.26,134.87 457.67,135.17 458.08,135.47 458.48,135.77 458.89,136.07 459.30,136.37 459.71,136.67 460.12,136.97 460.52,137.28 460.93,137.58 461.34,137.88 461.75,138.18 462.16,138.48 462.56,138.79 462.97,139.09 463.38,139.39 463.79,139.70 464.20,140.00 464.60,140.30 465.01,140.61 465.42,140.91 465.83,141.22 466.24,141.52 466.64,141.83 467.05,142.13 467.46,142.44 467.87,142.74 468.28,143.05 468.68,143.35 469.09,143.66 469.50,143.97 469.91,144.27 470.32,144.58 470.72,144.89 471.13,145.19 471.54,145.50 471.95,145.81 472.36,146.12 472.76,146.43 473.17,146.74 473.58,147.04 473.99,147.35 474.40,147.66 474.80,147.97 475.21,148.28 475.62,148.59 476.03,148.90 476.44,149.21 476.84,149.52 477.25,149.83 477.66,150.15 478.07,150.46 478.48,150.77 478.88,151.08 479.29,151.39 479.70,151.71 480.11,152.02 480.52,152.33 480.92,152.64 481.33,152.96 481.74,153.27 482.15,153.58 482.56,153.90 482.96,154.21 483.37,154.53 483.78,154.84 484.19,155.16 484.60,155.47 485.00,155.79 485.41,156.10 485.82,156.42 486.23,156.73 486.64,157.05 487.04,157.37 487.45,157.68 487.86,158.00 488.27,158.32 488.68,158.64 489.08,158.95 489.49,159.27 489.90,159.59 490.31,159.91 490.72,160.23 491.12,160.55 491.53,160.87 491.94,161.18 492.35,161.50 492.76,161.82 493.16,162.14 493.57,162.46 493.98,162.78 494.39,163.11 494.80,163.43 495.20,163.75 495.61,164.07 496.02,164.39 496.43,164.71 496.84,165.03 497.24,165.36 497.65,165.68 498.06,166.00 498.47,166.33 498.88,166.65 499.28,166.97 499.69,167.30 500.10,167.62 500.51,167.94 500.92,168.27 501.32,168.59 501.73,168.92 502.14,169.24 502.55,169.57 502.96,169.89 503.36,170.22 503.77,170.55 504.18,170.87 504.59,171.20 505.00,171.53 505.40,171.85 505.81,172.18 506.22,172.51 506.63,172.84 507.04,173.16 507.44,173.49 507.85,173.82 508.26,174.15 508.67,174.48 509.08,174.81 509.48,175.14 509.89,175.46 510.30,175.79 510.71,176.12 511.12,176.45 511.52,176.78 511.93,177.12 512.34,177.45 512.75,177.78 513.16,178.11 513.56,178.44 513.97,178.77 514.38,179.10 514.79,179.44 515.20,179.77 515.60,180.10 516.01,180.43 516.42,180.77 516.83,181.10 517.24,181.43 517.64,181.77 518.05,182.10 518.46,182.44 518.87,182.77 519.28,183.11 519.68,183.44 520.09,183.78 520.50,184.11 520.91,184.45 521.32,184.78 521.72,185.12 522.13,185.46 522.54,185.79 522.95,186.13 523.36,186.47 523.76,186.80 524.17,187.14 524.58,187.48 524.99,187.82 525.40,188.15 525.80,188.49 526.21,188.83 526.62,189.17 527.03,189.51 527.44,189.85 527.84,190.19 528.25,190.53 528.66,190.87 529.07,191.21 529.48,191.55 529.88,191.89 530.29,192.23 530.70,192.57 531.11,192.91 531.52,193.25 531.92,193.59 532.33,193.94 532.74,194.28 533.15,194.62 533.56,194.96 533.96,195.31 534.37,195.65 534.78,195.99 535.19,196.34 535.60,196.68 536.00,197.02 536.41,197.37 536.82,197.71 537.23,198.06 537.64,198.40 538.04,198.75 538.45,199.09 538.86,199.44 539.27,199.78 539.68,200.13 540.08,200.47 540.49,200.82 540.90,201.17" fill="none" stroke="#0070c0" stroke-width="1.85" stroke-linejoin="round"/>
<g font-family="Liberation Serif, serif" fill="#111" stroke="#111" stroke-width="0.18">
<rect x="142.10" y="27.10" width="97" height="97" fill="#fff" stroke="#4a4a4a" stroke-width="1.2"/>
<line x1="147.00" x2="195.50" y1="34.80" y2="34.80" stroke="#0070c0" stroke-width="1.85"/>
<text x="199.30" y="38.70" font-size="9.8">Rayleigh</text>
<line x1="147.00" x2="195.50" y1="46.46" y2="46.46" stroke="#f64008" stroke-width="1.85"/>
<text x="199.30" y="50.36" font-size="9.8">λ</text><text x="206.50" y="50.36" font-size="9.8">= 0.05</text>
<line x1="147.00" x2="195.50" y1="58.12" y2="58.12" stroke="#ffb000" stroke-width="1.85"/>
<text x="199.30" y="62.02" font-size="9.8">λ</text><text x="206.50" y="62.02" font-size="9.8">= 0.1</text>
<line x1="147.00" x2="195.50" y1="69.78" y2="69.78" stroke="#8a2a96" stroke-width="1.85"/>
<text x="199.30" y="73.68" font-size="9.8">λ</text><text x="206.50" y="73.68" font-size="9.8">= 0.5</text>
<line x1="147.00" x2="195.50" y1="81.44" y2="81.44" stroke="#4ca40a" stroke-width="1.85"/>
<text x="199.30" y="85.34" font-size="9.8">λ</text><text x="206.50" y="85.34" font-size="9.8">= 1</text>
<line x1="147.00" x2="195.50" y1="93.10" y2="93.10" stroke="#10b6ea" stroke-width="1.85"/>
<text x="199.30" y="97.00" font-size="9.8">λ</text><text x="206.50" y="97.00" font-size="9.8">= 2</text>
<line x1="147.00" x2="195.50" y1="104.76" y2="104.76" stroke="#c20f35" stroke-width="1.85"/>
<text x="199.30" y="108.66" font-size="9.8">λ</text><text x="206.50" y="108.66" font-size="9.8">= 5</text>
<line x1="147.00" x2="195.50" y1="116.42" y2="116.42" stroke="#0070c0" stroke-width="1.85"/>
<text x="199.30" y="120.32" font-size="9.8">λ</text><text x="206.50" y="120.32" font-size="9.8">= 10</text>
<rect x="442.20" y="17.70" width="97" height="97" fill="#fff" stroke="#4a4a4a" stroke-width="1.2"/>
<line x1="447.10" x2="495.60" y1="25.40" y2="25.40" stroke="#0070c0" stroke-width="1.85"/>
<text x="499.40" y="29.30" font-size="9.8">Rayleigh</text>
<line x1="447.10" x2="495.60" y1="37.06" y2="37.06" stroke="#f64008" stroke-width="1.85"/>
<text x="499.40" y="40.96" font-size="9.8">λ</text><text x="506.60" y="40.96" font-size="9.8">= 0.05</text>
<line x1="447.10" x2="495.60" y1="48.72" y2="48.72" stroke="#ffb000" stroke-width="1.85"/>
<text x="499.40" y="52.62" font-size="9.8">λ</text><text x="506.60" y="52.62" font-size="9.8">= 0.1</text>
<line x1="447.10" x2="495.60" y1="60.38" y2="60.38" stroke="#8a2a96" stroke-width="1.85"/>
<text x="499.40" y="64.28" font-size="9.8">λ</text><text x="506.60" y="64.28" font-size="9.8">= 0.5</text>
<line x1="447.10" x2="495.60" y1="72.04" y2="72.04" stroke="#4ca40a" stroke-width="1.85"/>
<text x="499.40" y="75.94" font-size="9.8">λ</text><text x="506.60" y="75.94" font-size="9.8">= 1</text>
<line x1="447.10" x2="495.60" y1="83.70" y2="83.70" stroke="#10b6ea" stroke-width="1.85"/>
<text x="499.40" y="87.60" font-size="9.8">λ</text><text x="506.60" y="87.60" font-size="9.8">= 2</text>
<line x1="447.10" x2="495.60" y1="95.36" y2="95.36" stroke="#c20f35" stroke-width="1.85"/>
<text x="499.40" y="99.26" font-size="9.8">λ</text><text x="506.60" y="99.26" font-size="9.8">= 5</text>
<line x1="447.10" x2="495.60" y1="107.02" y2="107.02" stroke="#0070c0" stroke-width="1.85"/>
<text x="499.40" y="110.92" font-size="9.8">λ</text><text x="506.60" y="110.92" font-size="9.8">= 10</text>
</g>
<g font-family="Liberation Serif, serif" font-size="13.4" fill="#1a1a1a" stroke="#1a1a1a" stroke-width="0.2">
<text x="116.6" y="220.5" textLength="54.3" lengthAdjust="spacingAndGlyphs">Amplitude</text>
<text x="412.3" y="220.5" textLength="54.3" lengthAdjust="spacingAndGlyphs">Amplitude</text>
<text transform="translate(13.5,132.3) rotate(-90)" textLength="64.2" lengthAdjust="spacingAndGlyphs">Prob.density</text>
<text transform="translate(304.6,132.3) rotate(-90)" textLength="64.2" lengthAdjust="spacingAndGlyphs">Prob.density</text>
</g>
<g font-family="Liberation Serif, serif" font-size="15" fill="#000">
<text x="139.3" y="244" text-anchor="middle">(<tspan font-weight="bold">a</tspan>)</text>
<text x="430.5" y="244" text-anchor="middle">(<tspan font-weight="bold">b</tspan>)</text>
</g>
</svg>
</body></html>
